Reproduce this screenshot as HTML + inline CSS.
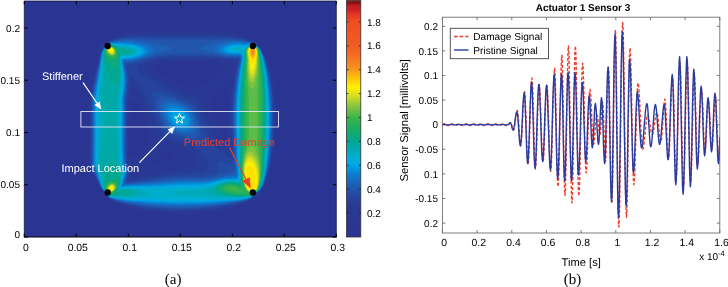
<!DOCTYPE html><html><head><meta charset="utf-8"><title>Figure</title>
<style>html,body{margin:0;padding:0;background:#fff}svg{display:block}text{font-family:"Liberation Sans",sans-serif;font-size:10px;fill:#000;text-rendering:geometricPrecision}.an{font-size:11px;fill:#fff}.cap{font-family:"Liberation Serif",serif;font-size:15px}</style></head><body>
<svg width="728" height="287" viewBox="0 0 728 287">
<defs><clipPath id="cp"><rect x="24.3" y="1.0" width="312.0" height="236.0"/></clipPath>
<clipPath id="cp2"><rect x="442.4" y="17.2" width="277.4" height="215.4"/></clipPath>
<filter id="bl" x="-5%" y="-5%" width="110%" height="110%"><feGaussianBlur stdDeviation="0.7"/></filter>
<linearGradient id="cb" x1="0" y1="1" x2="0" y2="0">
<stop offset="0.0000" stop-color="#2b3492"/>
<stop offset="0.1266" stop-color="#2a3894"/>
<stop offset="0.1772" stop-color="#2448a0"/>
<stop offset="0.2278" stop-color="#1c64ba"/>
<stop offset="0.2633" stop-color="#0c7cce"/>
<stop offset="0.2886" stop-color="#0096e1"/>
<stop offset="0.3089" stop-color="#00a8e6"/>
<stop offset="0.3342" stop-color="#00aed4"/>
<stop offset="0.3646" stop-color="#00aab9"/>
<stop offset="0.4051" stop-color="#00a891"/>
<stop offset="0.4557" stop-color="#19ac64"/>
<stop offset="0.5063" stop-color="#3cb54a"/>
<stop offset="0.5570" stop-color="#8dc63f"/>
<stop offset="0.5975" stop-color="#d7df23"/>
<stop offset="0.6329" stop-color="#fff200"/>
<stop offset="0.6684" stop-color="#fdc80a"/>
<stop offset="0.7089" stop-color="#f7961d"/>
<stop offset="0.7595" stop-color="#f37321"/>
<stop offset="0.8101" stop-color="#f15c24"/>
<stop offset="0.9114" stop-color="#f04e23"/>
<stop offset="0.9468" stop-color="#e23023"/>
<stop offset="0.9620" stop-color="#cb2023"/>
<stop offset="0.9813" stop-color="#c01c20"/>
<stop offset="0.9863" stop-color="#8e1416"/>
<stop offset="1.0000" stop-color="#871214"/>
</linearGradient></defs>
<rect width="728" height="287" fill="#fff"/>
<g clip-path="url(#cp)"><g filter="url(#bl)"><rect x="14.3" y="-9.0" width="332.0" height="256.0" fill="#2a3693"/>
<path fill="#2a3894" d="M97.4,47.5 99.7,45.5 104.8,42.0 106.8,41.1 108.8,40.6 113.8,37.7 117.8,36.0 120.8,34.9 124.8,33.9 129.8,33.0 133.8,32.6 225.8,32.6 230.8,33.1 236.8,34.2 241.8,35.8 248.4,38.5 249.8,38.8 250.8,38.8 252.8,37.6 253.8,37.5 254.8,37.9 255.8,38.9 256.8,40.3 258.6,43.5 259.8,46.5 263.5,51.5 264.6,53.5 267.2,59.5 270.2,68.5 272.3,77.5 274.2,89.5 275.4,100.5 276.1,113.5 276.0,125.5 275.3,139.5 274.3,148.5 273.4,155.5 271.5,166.5 269.5,174.5 266.5,182.5 265.2,185.5 263.0,189.5 261.2,193.5 258.8,196.9 256.8,198.7 254.8,199.8 253.8,200.2 250.8,200.7 245.8,203.1 236.8,206.2 230.8,207.9 222.8,209.8 211.8,211.8 201.8,213.0 189.8,213.9 178.8,214.1 166.8,213.6 159.8,213.1 152.8,212.3 142.8,210.8 130.8,208.1 122.8,205.8 115.8,203.0 113.8,202.0 110.8,200.2 108.0,197.5 107.8,197.0 105.8,196.1 104.8,195.4 103.1,193.5 101.9,190.5 99.4,187.5 97.1,183.5 91.4,171.5 90.2,168.5 88.9,164.5 89.1,97.5 91.4,85.5 96.8,63.8 97.8,57.9 97.7,56.5 96.2,53.5 95.8,51.5 96.2,49.5ZM154.7,66.5 154.9,67.5 155.5,68.5 157.5,70.5 162.8,74.5 167.6,77.5 172.9,80.5 186.7,87.5 189.8,88.7 192.8,89.2 195.8,89.0 198.8,88.0 201.8,86.5 205.8,83.9 211.8,79.3 219.6,72.5 223.7,68.5 224.5,67.5 225.0,66.5 224.9,65.5 224.1,64.5 222.0,63.5 219.8,63.0 216.8,62.5 213.8,62.3 203.8,62.2 174.8,62.4 164.8,62.9 160.1,63.5 156.8,64.5 155.2,65.5ZM229.8,77.1 228.8,77.6 227.8,78.4 224.8,81.6 219.8,87.5 215.8,92.8 213.4,96.5 211.7,99.5 210.6,102.5 210.0,105.5 210.1,108.5 211.0,111.5 216.8,124.1 219.6,129.5 221.8,133.1 223.8,135.9 224.8,137.0 225.8,137.6 226.8,137.3 227.3,135.5 227.7,132.5 227.9,117.5 228.3,109.5 230.9,82.5 230.8,78.4ZM131.8,98.2 130.8,99.6 130.3,103.5 129.9,107.5 129.4,141.5 129.5,148.5 129.8,153.3 130.8,157.0 131.8,157.9 133.1,157.5 135.8,155.2 140.3,150.5 144.4,145.5 147.1,141.5 148.6,138.5 149.6,135.5 149.8,133.5 149.6,131.5 148.7,128.5 143.5,118.5 137.8,106.5 135.8,102.8 133.8,99.7 132.8,98.6ZM174.0,153.5 173.3,152.5 172.2,151.5 170.3,150.5 168.8,150.2 165.8,150.3 162.8,151.5 159.8,153.5 157.6,155.5 155.9,157.5 153.9,160.5 153.2,162.5 153.1,163.5 153.8,164.4 154.8,164.5 156.8,164.2 161.8,162.5 168.8,159.5 171.8,157.8 173.3,156.5 174.0,155.5 174.2,154.5Z"/>
<path fill="#283d98" d="M103.8,44.5 105.8,43.0 108.8,41.6 111.8,39.7 114.8,38.3 117.8,37.1 121.8,36.0 126.8,35.0 131.8,34.5 135.8,34.2 226.8,34.4 232.8,35.0 238.8,36.2 242.8,37.4 250.8,40.3 251.8,40.4 252.8,40.0 253.8,40.1 254.8,40.6 255.8,41.5 257.1,43.5 258.5,46.5 258.8,46.6 261.5,49.5 263.4,52.5 265.3,56.5 266.5,59.5 269.3,68.5 271.4,78.5 273.4,91.5 274.4,103.5 274.9,116.5 274.7,129.5 274.0,140.5 272.3,155.5 270.2,167.5 268.2,175.5 265.2,183.5 264.3,185.5 262.5,188.5 260.0,191.5 258.8,193.5 257.2,195.5 254.8,197.2 252.8,198.0 249.8,200.3 246.8,201.7 242.8,203.2 236.8,205.0 228.8,207.1 217.8,209.2 205.8,210.8 194.8,211.7 183.8,212.1 171.8,212.0 158.8,211.2 147.8,209.9 136.8,208.1 126.8,205.8 117.8,203.0 114.8,201.7 111.8,200.2 109.8,198.8 108.4,197.5 107.8,196.2 104.9,193.5 103.9,191.5 101.8,189.6 99.4,186.5 97.3,182.5 93.2,173.5 91.2,168.5 89.9,164.5 90.1,97.5 92.4,85.5 97.8,62.6 98.8,57.5 99.7,50.5 100.0,49.5 101.2,47.5ZM146.3,64.5 145.4,65.5 145.0,66.5 145.0,67.5 145.5,68.5 146.8,70.2 149.2,72.5 154.0,76.5 158.1,79.5 162.6,82.5 169.8,86.5 186.0,94.5 190.8,96.1 198.8,97.5 199.8,97.9 200.8,98.6 201.4,99.5 201.8,100.6 203.0,108.5 204.0,112.5 206.8,119.1 212.8,131.8 216.8,138.3 221.6,144.5 225.8,148.7 227.8,150.0 228.8,150.1 229.8,149.0 230.3,146.5 230.5,144.5 230.1,117.5 230.3,109.5 231.0,100.5 232.3,88.5 234.2,74.5 236.4,63.5 236.4,62.5 235.8,61.5 234.8,61.3 228.8,61.2 216.8,60.0 208.8,59.7 190.8,59.6 168.8,59.8 159.8,60.4 153.8,61.5 150.2,62.5 147.9,63.5ZM131.8,87.2 130.8,88.4 129.8,91.4 128.8,95.5 128.3,98.5 128.0,105.5 127.8,137.5 127.9,152.5 128.8,162.0 129.3,164.5 130.5,167.5 130.9,170.5 130.5,173.5 129.7,176.5 129.6,177.5 129.8,178.1 130.2,178.5 130.8,178.7 133.9,178.5 140.6,177.5 145.5,176.5 169.8,170.9 188.8,167.2 192.8,165.9 194.8,164.8 196.0,163.5 196.5,162.5 196.7,160.5 196.3,158.5 195.3,156.5 193.8,154.5 191.8,152.5 189.3,150.5 186.1,148.5 182.5,146.5 175.8,143.4 172.8,142.4 169.8,141.8 161.8,141.0 160.3,140.5 159.2,139.5 158.3,137.5 157.2,131.5 155.9,127.5 150.3,116.5 143.8,102.6 140.2,96.5 135.8,90.4 133.8,88.0 132.8,87.3Z"/>
<path fill="#26439c" d="M105.3,44.5 106.7,43.5 107.8,43.0 110.8,40.8 114.8,39.1 117.8,38.1 121.8,37.2 125.8,36.5 129.8,36.1 134.8,35.8 160.8,36.0 227.8,36.1 234.8,36.7 240.8,37.9 248.8,40.2 250.8,41.0 251.8,41.6 253.8,41.8 254.8,42.3 255.9,43.5 257.7,46.5 258.8,47.0 260.3,48.5 262.4,51.5 265.2,57.5 267.2,63.5 269.5,72.5 271.4,83.5 273.0,96.5 273.7,107.5 273.9,121.5 273.5,135.5 272.3,148.5 270.5,161.5 269.5,167.5 268.3,172.5 266.2,179.5 264.2,184.5 263.2,186.5 260.8,189.9 259.8,190.9 258.8,191.5 255.8,194.6 252.8,196.4 252.4,197.5 250.8,199.0 247.8,200.7 243.8,202.1 233.8,204.9 222.8,207.1 209.8,209.0 195.8,210.1 182.8,210.6 169.8,210.4 157.8,209.6 144.8,208.2 132.8,206.1 122.8,203.8 117.8,202.3 114.8,201.1 111.8,199.7 109.8,198.4 108.0,196.5 107.8,195.8 107.4,195.5 106.8,194.5 106.8,194.1 105.4,192.5 103.8,191.2 101.2,188.5 99.3,185.5 97.4,181.5 93.5,172.5 91.6,167.5 90.7,164.5 90.9,97.5 93.3,84.5 100.3,53.5 101.0,51.5 103.1,47.5 104.4,45.5ZM138.3,65.5 137.4,66.5 136.8,67.5 136.6,68.5 136.8,69.7 138.0,71.5 140.1,73.5 142.7,75.5 151.2,81.5 156.1,84.5 160.8,87.0 174.8,93.1 185.8,98.3 192.8,101.1 194.8,102.2 195.8,103.1 197.0,104.5 198.1,106.5 200.9,114.5 208.8,134.5 210.8,138.6 213.1,142.5 215.2,145.5 217.8,148.5 223.2,153.5 226.8,156.3 228.8,157.4 229.8,157.5 230.8,157.0 231.8,154.4 232.2,149.5 231.4,120.5 231.5,111.5 232.1,101.5 233.2,90.5 234.5,80.5 236.2,70.5 238.0,62.5 238.0,60.5 237.8,60.0 236.8,59.4 227.8,59.3 215.8,58.2 206.8,57.8 180.8,57.7 165.8,58.0 157.8,58.8 153.6,59.5 149.5,60.5 143.7,62.5 141.5,63.5ZM130.8,75.7 129.8,81.0 129.2,85.5 127.2,97.5 127.0,99.5 126.8,128.5 126.9,152.5 127.7,164.5 128.7,167.5 129.2,170.5 128.9,173.5 127.6,178.5 127.5,179.5 127.8,180.5 128.8,180.8 130.8,180.7 140.7,179.5 160.8,176.0 174.8,173.9 183.8,173.1 200.8,172.3 204.7,171.5 206.8,170.5 207.7,169.5 208.2,168.5 208.3,167.5 208.1,164.5 207.3,161.5 206.0,158.5 204.8,156.3 202.6,153.5 200.5,151.5 196.2,148.5 190.5,145.5 178.6,140.5 166.8,136.7 164.8,135.5 163.7,134.5 162.8,133.4 161.8,131.6 158.8,125.1 154.4,116.5 152.3,111.5 147.8,99.9 144.2,92.5 140.5,86.5 133.8,77.2 132.8,76.0 131.8,75.3Z"/>
<path fill="#234ba3" d="M105.8,45.1 106.8,44.3 107.8,43.8 108.8,42.6 109.8,41.8 111.8,40.9 115.8,39.6 119.8,38.6 123.8,37.9 128.8,37.5 133.8,37.3 163.8,37.8 206.8,37.8 224.8,37.6 230.8,37.7 237.8,38.4 243.8,39.6 249.8,41.1 252.8,42.8 253.8,43.0 254.8,43.6 256.3,45.5 256.8,45.7 257.5,46.5 258.8,47.4 259.9,48.5 262.0,51.5 264.3,56.5 266.1,61.5 267.2,65.5 269.2,74.5 271.1,86.5 272.3,97.5 272.9,108.5 273.1,121.5 272.7,134.5 271.7,147.5 270.2,159.5 268.4,169.5 266.3,177.5 264.6,182.5 263.3,185.5 262.2,187.5 260.7,189.5 257.8,192.1 256.2,192.5 254.8,193.8 253.8,194.5 253.4,195.5 252.8,196.0 252.0,197.5 250.8,198.5 248.8,199.8 244.8,201.3 233.8,204.0 222.8,206.1 208.8,207.9 194.8,208.9 181.8,209.3 168.8,209.0 155.8,208.2 143.8,206.9 130.8,204.8 119.8,202.3 115.8,201.0 112.8,199.8 110.8,198.8 108.8,197.3 108.2,196.5 107.8,195.5 106.9,194.5 107.1,193.5 106.3,192.5 105.8,192.4 103.3,190.5 101.5,188.5 100.3,186.5 98.3,182.5 94.2,172.5 92.3,167.5 91.4,164.5 91.6,97.5 93.4,87.5 100.2,55.5 101.2,52.5 102.1,50.5 103.3,48.5ZM238.5,58.5 237.8,58.2 236.8,58.1 231.8,58.3 227.8,58.1 212.8,56.5 203.8,55.9 178.8,55.9 165.8,56.2 158.8,56.9 151.8,58.3 144.3,60.5 133.8,64.1 127.8,65.2 127.4,65.5 126.8,66.5 126.8,67.5 128.1,75.5 128.3,80.5 127.7,88.5 126.2,98.5 126.0,145.5 126.2,155.5 126.7,164.5 127.9,168.5 128.1,171.5 127.6,175.5 126.2,180.5 126.2,181.5 126.8,182.0 127.8,182.1 134.9,181.5 143.5,180.5 165.8,177.3 176.8,176.2 186.8,175.7 202.8,175.6 207.8,175.1 211.0,174.5 213.9,173.5 215.8,172.5 217.0,171.5 217.7,170.5 218.1,169.5 218.2,163.5 218.8,162.0 219.8,161.3 220.8,161.2 222.8,161.5 229.8,164.3 230.8,164.4 231.8,163.9 232.8,161.5 233.2,157.5 233.4,153.5 233.3,147.5 232.4,122.5 232.5,112.5 233.0,102.5 234.1,90.5 235.4,80.5 237.1,70.5 239.1,61.5 239.1,59.5 238.8,58.8ZM152.9,92.5 153.8,91.7 154.8,91.4 157.8,91.3 162.8,92.3 168.8,94.0 176.8,97.0 187.8,102.1 190.8,103.6 193.3,105.5 194.9,107.5 196.5,110.5 200.5,121.5 202.4,127.5 203.9,133.5 204.6,138.5 204.5,141.5 203.8,142.8 202.8,143.5 201.8,143.7 199.8,143.7 195.8,143.0 190.8,141.6 170.8,135.0 167.8,133.4 165.8,131.7 163.6,128.5 159.4,120.5 157.1,115.5 155.2,110.5 153.5,104.5 152.4,98.5 152.2,96.5 152.2,94.5 152.4,93.5Z"/>
<path fill="#2056ad" d="M109.8,42.2 111.8,41.4 116.8,40.1 122.8,39.1 128.8,38.7 135.8,38.7 157.8,39.9 171.8,40.2 205.8,40.1 213.8,39.9 225.8,39.2 232.8,39.2 240.8,39.9 249.8,41.7 250.8,42.0 251.8,42.7 252.7,43.5 252.8,43.8 253.8,44.1 254.8,44.7 255.4,45.5 256.8,46.0 257.2,46.5 258.7,47.5 259.7,48.5 261.2,50.5 262.2,52.5 263.5,55.5 266.2,63.5 268.3,72.5 270.1,83.5 271.2,93.5 272.0,104.5 272.3,115.5 272.3,127.5 271.6,139.5 270.5,151.5 269.1,162.5 267.4,171.5 265.2,179.5 263.4,184.5 262.4,186.5 260.4,189.5 258.8,191.0 256.8,192.3 254.8,192.5 253.6,193.5 253.7,194.5 252.8,195.6 252.5,196.5 251.8,197.4 250.8,198.3 247.8,199.8 244.8,200.8 234.8,203.1 222.8,205.2 208.8,206.8 195.8,207.7 182.8,208.1 169.8,207.9 156.8,207.2 143.8,205.9 130.8,204.0 120.8,201.9 113.8,199.8 110.8,198.4 108.8,197.1 107.9,195.5 107.0,194.5 107.8,193.5 107.1,192.5 105.8,192.3 103.5,190.5 101.9,188.5 100.1,185.5 93.6,169.5 92.0,164.5 92.3,97.5 94.4,85.5 98.8,64.8 100.4,56.5 101.2,53.5 103.0,49.5 106.3,45.5 107.8,44.4 108.2,43.5ZM125.8,63.5 125.4,64.5 125.3,65.5 127.0,74.5 127.4,80.5 126.9,87.5 125.4,98.5 125.2,124.5 125.3,150.5 125.9,164.5 127.0,168.5 127.3,171.5 127.0,174.5 125.1,181.5 125.1,182.5 125.8,183.0 126.8,183.1 145.1,181.5 164.8,179.0 176.8,178.0 184.8,177.7 200.8,177.7 206.8,177.4 212.8,176.5 216.6,175.5 226.8,172.2 231.8,171.5 232.8,171.2 233.8,169.9 234.0,168.5 234.4,159.5 234.3,149.5 233.3,124.5 233.3,114.5 233.6,105.5 234.5,93.5 236.1,80.5 237.6,71.5 239.9,60.5 239.9,58.5 239.2,57.5 237.8,57.1 231.8,57.3 226.8,57.0 210.8,54.6 202.8,53.9 184.8,53.7 168.8,54.0 161.8,54.7 156.8,55.6 150.8,57.2 134.8,62.0 130.8,62.8 126.8,63.1ZM158.8,97.8 159.8,97.1 160.8,96.7 163.8,96.4 167.8,96.8 171.8,97.8 177.8,99.9 185.8,103.6 189.3,105.5 191.7,107.5 193.8,110.4 195.2,113.5 197.3,119.5 199.0,125.5 199.6,129.5 199.6,132.5 199.3,134.5 198.9,135.5 198.2,136.5 196.8,137.6 195.8,138.0 193.8,138.3 190.8,138.2 186.8,137.5 180.8,135.9 173.8,133.7 170.8,132.3 169.5,131.5 167.8,130.1 165.7,127.5 162.9,122.5 160.1,116.5 158.3,111.5 157.2,106.5 157.0,102.5 157.3,100.5 157.6,99.5Z"/>
<path fill="#1d61b7" d="M108.8,43.2 109.8,42.6 111.8,41.8 120.8,40.3 127.8,39.9 135.8,40.3 146.1,41.5 156.7,43.5 170.9,47.5 172.8,48.5 170.6,49.5 167.8,50.1 160.8,52.2 144.8,57.8 137.8,60.0 131.8,61.3 125.8,61.8 124.8,62.2 124.6,62.5 124.3,63.5 124.3,64.5 126.2,74.5 126.6,80.5 126.2,87.5 124.7,98.5 124.5,138.5 124.8,156.5 125.2,164.5 126.3,168.5 126.6,171.5 126.2,175.5 124.2,182.5 124.2,183.5 124.8,183.9 125.8,184.0 144.8,182.6 164.8,180.4 174.8,179.6 183.8,179.3 200.8,179.3 206.8,179.0 211.8,178.2 225.8,175.2 232.9,174.5 233.8,174.3 234.8,173.8 235.4,172.5 235.7,170.5 235.1,150.5 234.1,126.5 234.0,116.5 234.3,106.5 235.1,95.5 236.2,84.5 238.2,71.5 240.5,60.5 240.6,58.5 240.4,57.5 239.8,56.6 238.8,56.3 232.8,56.4 228.8,56.2 223.8,55.5 218.8,54.5 211.3,52.5 201.7,49.5 200.0,48.5 201.1,47.5 208.6,44.5 213.8,43.0 218.8,41.9 223.8,41.1 228.8,40.6 232.8,40.5 239.8,40.8 249.8,42.1 250.8,42.4 251.8,43.0 252.3,43.5 252.8,44.6 254.5,45.5 255.8,45.6 258.5,47.5 259.5,48.5 260.9,50.5 263.2,55.5 265.4,62.5 267.5,71.5 269.3,82.5 270.5,93.5 271.3,105.5 271.6,117.5 271.5,129.5 270.9,140.5 269.6,154.5 268.0,165.5 266.2,174.5 264.2,181.5 262.1,186.5 260.9,188.5 259.2,190.5 256.8,192.2 253.1,192.5 252.8,192.9 252.8,193.5 253.6,194.5 252.7,195.5 252.3,196.5 251.8,197.2 250.8,198.0 248.8,199.0 244.8,200.3 232.8,202.8 221.8,204.4 208.8,205.8 194.8,206.6 181.8,206.9 168.8,206.7 155.8,206.0 142.8,204.8 129.8,203.1 119.8,201.1 115.8,200.1 112.8,199.0 110.8,198.2 108.8,196.9 108.0,195.5 107.1,194.5 107.9,193.5 107.8,192.5 105.8,192.2 103.8,190.6 102.1,188.5 100.5,185.5 94.2,169.5 92.6,164.5 92.9,134.5 92.9,97.5 94.5,88.5 101.2,54.5 102.3,51.5 103.3,49.5 104.9,47.5 108.0,44.5ZM162.1,101.5 163.8,100.4 165.8,99.8 168.8,99.8 172.8,100.5 177.8,102.1 183.8,104.7 187.1,106.5 189.7,108.5 191.4,110.5 193.0,113.5 194.5,117.5 195.8,122.5 196.3,125.5 196.4,128.5 195.8,131.2 194.8,132.9 193.8,133.8 192.8,134.3 190.8,134.9 187.8,135.0 184.8,134.6 179.8,133.5 174.8,131.9 171.8,130.5 169.2,128.5 167.6,126.5 165.1,122.5 162.4,116.5 161.0,112.5 160.3,108.5 160.3,105.5 160.8,103.5 161.3,102.5Z"/>
<path fill="#156ec3" d="M108.8,43.5 109.8,42.9 111.8,42.3 121.8,41.2 128.8,41.1 135.8,41.8 142.8,43.1 147.8,44.7 150.8,46.1 153.0,47.5 154.1,48.5 154.6,49.5 154.6,50.5 154.0,51.5 152.9,52.5 149.6,54.5 145.0,56.5 139.8,58.3 134.8,59.7 130.8,60.4 124.8,60.8 123.7,61.5 123.5,62.5 123.6,64.5 125.4,73.5 125.9,80.5 125.4,88.5 124.0,98.5 123.9,135.5 124.1,156.5 124.5,164.5 125.7,168.5 126.0,172.5 125.4,176.5 123.3,183.5 123.5,184.5 123.8,184.7 124.8,184.8 131.8,184.2 145.8,183.5 164.8,181.7 175.8,180.9 184.8,180.6 199.8,180.7 205.1,180.5 211.8,179.5 223.8,176.9 228.8,176.3 233.8,176.1 234.8,176.0 235.8,175.5 236.4,174.5 236.7,172.5 236.2,163.5 235.8,149.6 234.9,128.5 234.7,117.5 235.0,106.5 235.7,95.5 237.0,83.5 238.6,72.5 241.0,60.5 241.1,57.5 240.8,56.4 239.8,55.6 238.8,55.4 232.8,55.6 228.8,55.3 224.0,54.5 220.3,53.5 217.7,52.5 215.8,51.5 214.7,50.5 214.1,49.5 214.2,48.5 214.9,47.5 217.4,45.5 219.3,44.5 221.8,43.6 227.8,42.2 234.8,41.6 239.8,41.8 245.8,42.4 249.8,42.6 250.8,42.8 251.8,43.4 252.5,44.5 253.7,45.5 255.8,45.7 258.3,47.5 260.0,49.5 261.2,51.5 263.2,56.5 265.3,63.5 267.2,72.5 268.9,83.5 270.0,94.5 270.7,105.5 271.0,117.5 270.8,129.5 270.2,141.5 269.0,154.5 267.4,166.5 265.5,175.5 263.5,182.5 262.3,185.5 261.3,187.5 258.9,190.5 256.8,192.1 255.8,192.3 252.7,192.5 252.7,193.5 253.6,194.5 252.6,195.5 251.8,197.0 250.8,197.7 248.8,198.7 244.8,199.9 233.8,201.9 222.8,203.4 209.8,204.7 196.8,205.5 182.8,205.8 169.8,205.6 156.8,205.0 143.8,204.0 130.8,202.5 120.8,200.8 116.8,199.9 112.8,198.7 110.8,197.9 108.8,196.7 108.1,195.5 107.1,194.5 108.0,193.5 107.9,192.5 105.8,192.1 103.9,190.5 102.3,188.5 101.2,186.5 94.8,169.5 93.2,164.5 93.5,133.5 93.6,97.5 94.8,90.0 101.5,54.5 102.5,51.5 104.1,48.5 108.1,44.5ZM164.8,104.4 165.8,103.6 166.8,103.1 168.8,102.6 170.8,102.6 173.8,103.0 177.8,104.2 181.8,105.8 185.2,107.5 187.9,109.5 189.7,111.5 191.0,113.5 192.2,116.5 193.3,120.5 193.7,123.5 193.6,126.5 193.1,128.5 192.6,129.5 191.8,130.5 189.8,131.7 187.8,132.2 185.8,132.3 182.8,132.1 178.8,131.3 175.8,130.3 172.8,128.9 170.8,127.3 168.8,125.0 166.7,121.5 164.9,117.5 163.6,113.5 163.1,110.5 163.1,108.5 163.5,106.5 164.0,105.5Z"/>
<path fill="#0c7cce" d="M105.1,47.5 107.8,45.0 108.8,43.8 110.8,42.9 121.8,42.1 128.8,42.3 135.8,43.2 139.8,44.1 142.8,45.1 145.8,46.5 147.4,47.5 148.7,48.5 149.4,49.5 149.7,50.5 149.5,51.5 148.9,52.5 147.7,53.5 146.2,54.5 142.0,56.5 136.8,58.3 132.8,59.2 128.8,59.7 123.8,60.0 123.2,60.5 122.8,61.5 123.1,64.5 124.8,73.5 125.3,79.5 125.0,86.5 123.5,97.5 123.3,101.5 123.2,133.5 123.5,156.5 123.9,164.5 125.0,168.5 125.4,172.5 124.9,176.5 122.8,182.9 122.5,184.5 122.8,185.4 123.8,185.5 130.8,184.9 147.8,184.3 166.8,182.8 176.8,182.2 185.8,181.9 199.8,182.0 204.8,181.8 210.8,180.9 223.8,178.0 228.8,177.5 234.8,177.3 235.8,177.2 236.8,176.6 237.3,175.5 237.5,173.5 236.9,163.5 235.5,128.5 235.4,117.5 235.7,107.5 236.4,95.5 237.6,83.5 239.3,71.5 241.5,60.5 241.7,57.5 241.5,56.5 241.1,55.5 240.8,55.1 239.8,54.7 234.8,54.8 231.8,54.7 228.8,54.4 225.8,53.8 221.8,52.5 220.0,51.5 219.0,50.5 218.7,49.5 218.9,48.5 219.6,47.5 221.8,45.9 223.8,44.9 225.8,44.2 228.8,43.5 234.8,42.8 239.8,42.8 245.8,43.4 249.8,43.1 250.8,43.2 251.8,43.7 252.3,44.5 253.5,45.5 255.8,45.8 258.2,47.5 259.1,48.5 260.4,50.5 262.5,55.5 264.9,63.5 266.6,71.5 268.0,81.5 269.2,92.5 269.9,103.5 270.3,115.5 270.2,127.5 269.7,139.5 268.6,152.5 267.2,164.5 266.0,171.5 264.1,179.5 262.0,185.5 261.0,187.5 259.6,189.5 258.7,190.5 256.8,192.0 255.8,192.3 252.6,192.5 252.6,193.5 253.5,194.5 252.5,195.5 251.8,196.8 249.8,198.0 246.8,199.0 237.8,200.7 226.8,202.2 212.8,203.5 200.8,204.2 187.8,204.6 173.8,204.6 159.8,204.2 145.8,203.2 130.8,201.7 120.8,200.3 116.8,199.5 112.8,198.4 110.8,197.6 108.8,196.5 108.2,195.5 107.2,194.5 108.1,193.5 108.1,192.5 105.8,192.0 104.1,190.5 102.5,188.5 101.5,186.5 95.7,170.5 93.8,164.5 94.2,132.5 94.2,97.5 95.7,88.5 99.4,68.5 101.5,55.5 102.4,52.5 103.2,50.5 104.3,48.5ZM167.7,106.5 168.8,105.8 170.8,105.3 172.8,105.2 175.8,105.7 178.8,106.5 181.8,107.7 184.8,109.4 186.8,111.0 188.2,112.5 189.4,114.5 190.3,116.5 191.0,119.5 191.3,122.5 191.2,124.5 190.6,126.5 189.8,127.8 188.8,128.7 186.8,129.6 184.8,130.0 181.8,129.9 178.8,129.4 175.8,128.4 173.8,127.3 171.8,125.7 170.0,123.5 168.2,120.5 167.0,117.5 166.1,114.5 165.8,111.5 166.0,109.5 166.8,107.5Z"/>
<path fill="#0291dd" d="M105.2,47.5 107.8,45.2 108.8,44.0 109.8,43.5 110.8,43.3 112.8,43.1 121.8,43.1 126.8,43.2 133.8,44.1 136.8,44.8 139.8,45.8 142.8,47.2 144.8,48.5 145.8,49.5 146.2,50.5 146.2,51.5 145.7,52.5 144.8,53.5 141.8,55.4 139.3,56.5 135.8,57.7 131.8,58.6 127.8,59.0 123.8,59.0 122.8,59.3 122.3,60.5 122.4,63.5 124.2,73.5 124.6,79.5 124.2,87.5 122.7,98.5 122.5,129.5 122.7,149.5 123.2,164.5 124.6,169.5 124.8,172.5 124.3,176.5 121.8,184.5 121.6,185.5 121.8,185.9 122.8,186.2 130.8,185.6 149.8,185.3 177.8,183.4 185.8,183.2 198.8,183.3 203.8,183.1 209.8,182.2 218.8,179.9 223.8,178.9 228.8,178.4 235.8,178.3 236.8,178.1 237.5,177.5 238.0,176.5 238.2,174.5 237.4,163.5 236.2,129.5 236.1,118.5 236.3,107.5 237.0,95.5 238.1,84.5 239.7,72.5 241.9,60.5 242.2,58.5 242.1,56.5 241.8,55.2 240.8,54.0 239.8,53.9 235.8,54.1 232.8,54.0 227.8,53.2 225.4,52.5 223.4,51.5 222.4,50.5 222.0,49.5 222.3,48.5 223.1,47.5 224.6,46.5 226.7,45.5 230.8,44.4 235.8,43.8 239.8,43.8 245.8,44.4 249.8,43.6 250.8,43.6 251.8,44.0 253.2,45.5 255.8,45.9 258.0,47.5 258.9,48.5 260.2,50.5 262.2,55.5 264.5,63.5 266.3,72.5 267.7,83.5 268.7,94.5 269.4,105.5 269.6,117.5 269.5,130.5 268.9,142.5 267.7,155.5 266.3,167.5 264.5,176.5 262.9,182.5 262.1,184.5 260.7,187.5 259.5,189.5 258.6,190.5 256.8,191.9 255.8,192.2 252.5,192.5 252.5,193.5 253.4,194.5 252.4,195.5 251.8,196.6 249.8,197.7 245.8,198.9 235.8,200.4 225.8,201.5 212.8,202.5 199.8,203.2 185.8,203.5 171.8,203.4 156.8,202.9 141.8,201.9 127.8,200.7 119.8,199.6 112.8,198.0 110.8,197.4 108.8,196.3 108.3,195.5 107.3,194.5 108.2,193.5 108.2,192.5 105.8,191.9 104.2,190.5 103.4,189.5 102.3,187.5 100.7,183.5 95.8,168.9 94.5,164.5 94.9,130.5 94.9,97.5 100.0,67.5 101.8,55.5 102.6,52.5 103.4,50.5 104.4,48.5ZM169.8,109.3 170.8,108.5 171.8,108.1 173.8,107.8 175.8,107.9 177.8,108.3 180.8,109.3 182.8,110.3 184.8,111.7 185.8,112.6 187.2,114.5 188.2,116.5 188.8,118.5 189.1,120.5 189.0,122.5 188.4,124.5 187.8,125.5 186.8,126.5 184.8,127.5 182.8,127.8 180.8,127.8 178.8,127.4 176.8,126.8 174.8,125.7 173.2,124.5 171.8,122.9 170.8,121.4 169.8,119.3 168.8,116.5 168.5,114.5 168.4,112.5 168.9,110.5Z"/>
<path fill="#00a4e5" d="M105.3,47.5 107.8,45.4 108.8,44.3 109.8,43.8 110.8,43.6 112.8,43.6 116.8,43.9 126.8,44.2 132.8,45.1 137.7,46.5 140.0,47.5 141.6,48.5 142.7,49.5 143.3,50.5 143.4,51.5 143.1,52.5 142.2,53.5 140.9,54.5 137.8,56.0 134.8,57.1 130.8,57.9 127.8,58.2 122.8,58.3 122.4,58.5 121.7,59.5 121.8,62.5 123.5,72.5 124.0,78.5 123.6,86.5 122.0,98.5 121.8,128.5 122.0,149.5 122.6,164.5 124.0,169.5 124.2,172.5 124.1,174.5 123.6,177.5 120.8,186.5 121.8,186.9 129.8,186.2 148.8,186.4 177.8,184.8 202.8,184.4 206.8,183.9 209.8,183.3 218.8,180.8 223.8,179.7 228.8,179.2 235.8,179.3 236.8,179.2 237.8,178.8 238.6,177.5 238.8,176.5 238.8,174.5 238.0,163.5 237.6,147.5 236.9,129.5 236.8,117.5 237.0,106.5 237.7,94.5 238.8,83.5 240.3,71.5 242.5,59.5 242.6,56.5 242.2,54.5 241.8,53.6 240.8,53.1 234.8,53.3 229.8,52.6 226.6,51.5 225.4,50.5 225.0,49.5 225.4,48.5 226.4,47.5 228.2,46.5 231.8,45.4 235.8,44.9 239.8,44.9 245.8,45.5 246.8,45.3 249.8,44.2 250.8,44.1 251.8,44.3 253.0,45.5 255.8,46.0 257.8,47.5 258.7,48.5 260.0,50.5 261.9,55.5 264.1,63.5 265.8,72.5 267.1,82.5 268.1,94.5 268.8,106.5 269.0,117.5 268.8,130.5 268.2,142.5 267.1,156.5 265.8,167.5 264.4,175.5 262.6,182.5 261.5,185.5 260.5,187.5 259.3,189.5 258.4,190.5 256.8,191.8 255.8,192.1 252.8,192.3 252.3,192.5 252.4,193.5 253.3,194.5 252.3,195.5 251.8,196.4 249.8,197.5 246.8,198.3 238.8,199.5 229.8,200.3 203.8,201.9 187.8,202.2 171.8,202.2 154.8,201.6 134.8,200.5 124.8,199.7 118.8,198.9 111.8,197.4 109.8,196.7 108.8,196.2 108.4,195.5 107.4,194.5 108.2,193.5 108.3,192.5 105.8,191.8 104.3,190.5 103.6,189.5 102.5,187.5 101.7,185.5 95.2,164.5 95.7,131.5 95.6,97.5 100.2,69.5 102.1,55.5 102.5,53.5 103.5,50.5ZM172.6,111.5 173.8,110.8 174.8,110.5 177.8,110.6 180.8,111.6 182.5,112.5 183.8,113.5 184.8,114.6 185.9,116.5 186.7,119.5 186.6,121.5 186.2,122.5 185.7,123.5 184.8,124.4 182.8,125.3 181.8,125.5 179.8,125.4 176.8,124.5 175.2,123.5 174.1,122.5 172.8,120.7 172.2,119.5 171.3,116.5 171.2,114.5 171.4,113.5 171.8,112.5Z"/>
<path fill="#00acdb" d="M105.4,47.5 108.8,44.5 110.8,43.9 112.8,44.0 117.8,44.7 126.8,45.1 131.8,45.9 136.8,47.5 138.7,48.5 140.0,49.5 140.7,50.5 140.9,51.5 140.6,52.5 139.8,53.5 138.5,54.5 136.5,55.5 133.6,56.5 129.8,57.3 126.8,57.5 122.5,57.5 121.8,57.7 121.4,58.5 121.2,59.5 121.5,63.5 123.0,72.5 123.3,78.5 123.2,82.5 122.8,87.4 121.2,98.5 121.0,124.5 121.2,149.5 121.8,164.5 123.3,169.5 123.6,173.5 123.4,175.5 122.8,178.5 120.2,186.5 120.2,187.5 120.8,187.7 125.8,187.1 130.8,186.9 145.8,187.6 151.8,187.6 178.8,186.2 201.8,185.8 205.8,185.4 208.8,184.8 219.3,181.5 223.8,180.4 226.8,180.0 229.8,179.9 236.8,180.1 237.8,180.0 238.5,179.5 239.0,178.5 239.3,175.5 238.5,163.5 238.2,147.5 237.6,128.5 237.5,117.5 237.7,106.5 238.4,94.5 239.5,82.5 240.8,71.5 242.9,59.5 243.0,56.5 242.5,53.5 241.8,52.2 240.8,52.0 235.8,52.4 231.8,51.9 230.3,51.5 228.5,50.5 228.0,49.5 228.4,48.5 229.8,47.5 232.8,46.5 234.8,46.1 237.8,46.0 240.8,46.2 244.8,46.8 245.8,46.7 246.8,46.4 249.8,44.9 250.8,44.6 251.8,44.6 252.7,45.5 255.8,46.1 257.7,47.5 258.6,48.5 259.8,50.5 261.3,54.5 263.4,62.5 265.1,71.5 266.4,81.5 267.4,93.5 268.1,105.5 268.3,117.5 268.1,130.5 267.6,142.5 266.5,157.5 265.2,168.5 264.0,175.5 262.3,182.5 260.3,187.5 259.1,189.5 258.2,190.5 256.8,191.7 255.8,192.1 252.8,192.3 252.2,192.5 252.3,193.5 253.3,194.5 252.2,195.5 251.8,196.2 249.8,197.2 247.8,197.8 242.8,198.5 231.8,199.5 208.8,200.4 192.8,200.8 175.8,200.8 163.1,200.5 130.8,199.4 124.8,199.1 118.8,198.4 111.8,197.1 109.8,196.5 108.8,196.0 108.5,195.5 107.4,194.5 108.3,193.5 108.5,192.5 105.8,191.7 104.5,190.5 103.8,189.5 102.8,187.5 95.9,164.5 96.6,131.5 96.5,97.5 100.5,71.5 102.3,55.5 102.8,53.5 103.7,50.5ZM175.3,114.5 176.8,113.7 177.8,113.6 179.8,114.0 180.8,114.5 181.8,115.2 182.9,116.5 183.7,118.5 183.7,119.5 183.5,120.5 182.9,121.5 181.8,122.3 180.8,122.6 179.8,122.6 178.8,122.4 176.8,121.4 175.9,120.5 175.2,119.5 174.5,117.5 174.7,115.5Z"/>
<path fill="#00adcb" d="M105.6,47.5 108.8,44.7 110.8,44.2 112.8,44.4 117.8,45.5 126.8,46.1 131.8,47.0 135.8,48.5 137.3,49.5 138.2,50.5 138.5,51.5 138.2,52.5 137.4,53.5 136.0,54.5 133.8,55.5 130.8,56.3 128.8,56.6 125.8,56.8 121.8,56.7 120.9,57.5 120.7,58.5 120.9,62.5 122.4,72.5 122.6,78.5 122.5,82.5 121.9,87.5 120.2,98.5 120.0,121.5 120.2,144.5 120.5,155.5 121.0,164.5 122.5,169.5 122.9,171.5 123.0,173.5 122.7,176.5 122.0,179.5 120.8,183.5 119.3,187.5 119.8,188.4 125.8,187.7 130.8,187.6 135.8,187.9 146.8,189.0 152.8,189.3 158.8,189.1 179.8,188.0 197.8,187.6 202.8,187.3 205.8,186.9 208.8,186.2 218.7,182.5 223.8,181.1 226.8,180.7 229.8,180.5 237.8,180.9 238.9,180.5 239.5,179.5 239.7,178.5 239.9,176.5 238.9,162.5 238.8,147.5 238.2,123.5 238.5,105.5 239.1,94.5 240.1,82.5 241.3,71.5 243.3,59.5 243.4,56.5 242.8,50.8 241.8,50.5 237.8,51.2 234.8,51.1 232.5,50.5 231.6,49.5 232.2,48.5 234.8,47.5 236.8,47.3 240.2,47.5 243.8,48.6 244.8,48.4 249.8,45.5 250.8,45.1 251.8,45.0 252.3,45.5 254.8,45.8 255.8,46.1 257.6,47.5 258.4,48.5 259.6,50.5 261.0,54.5 263.3,63.5 264.8,72.4 265.8,81.5 266.8,93.5 267.4,105.5 267.6,117.5 267.5,129.5 267.0,142.5 265.8,158.5 264.8,168.5 263.5,176.5 262.0,182.5 260.1,187.5 258.1,190.5 256.8,191.5 255.8,192.0 252.8,192.2 252.1,192.5 252.2,193.5 253.2,194.5 252.1,195.5 251.8,196.1 249.8,197.0 247.8,197.4 244.8,197.8 231.8,198.7 192.8,199.0 149.8,198.2 128.8,198.5 122.8,198.2 116.2,197.5 110.8,196.6 108.8,195.8 107.5,194.5 108.4,193.5 108.6,192.5 105.8,191.6 104.6,190.5 104.0,189.5 103.1,187.5 100.2,176.5 96.7,164.5 97.6,131.5 97.5,97.5 101.3,70.5 102.8,54.5 103.9,50.5Z"/>
<path fill="#00aab9" d="M110.8,44.5 112.8,44.8 117.8,46.3 125.8,46.9 129.8,47.6 132.6,48.5 134.5,49.5 135.6,50.5 136.0,51.5 135.8,52.5 134.9,53.5 132.8,54.7 130.1,55.5 127.8,55.8 124.8,56.0 121.8,55.8 120.8,56.1 120.3,57.5 120.3,61.5 121.7,72.5 121.9,77.5 121.6,81.5 120.9,87.5 119.0,98.5 118.7,116.5 118.7,132.5 119.2,150.5 120.1,164.5 121.8,170.0 122.2,172.5 122.2,174.5 121.9,177.5 120.8,182.0 120.1,184.5 118.4,188.5 118.8,189.0 119.8,189.1 126.8,188.3 132.8,188.5 139.2,189.5 143.3,190.5 146.6,191.5 148.9,192.5 149.2,193.5 147.3,194.5 144.2,195.5 139.4,196.5 135.8,197.0 130.8,197.4 126.8,197.5 121.8,197.4 112.8,196.6 110.8,196.3 108.8,195.7 107.6,194.5 108.5,193.5 108.8,192.5 105.8,191.5 104.8,190.5 103.7,188.5 102.8,185.5 101.3,177.5 97.8,164.5 98.6,148.5 99.3,128.5 99.4,114.5 99.0,97.5 102.2,69.5 102.8,56.5 103.7,51.5 105.0,48.5 105.7,47.5 107.8,45.7 108.3,45.5 108.8,44.9ZM255.8,46.2 257.4,47.5 258.3,48.5 259.8,51.5 261.8,58.5 263.4,66.5 264.7,75.5 265.6,85.5 266.3,96.5 266.7,108.5 266.9,121.5 266.6,134.5 265.9,149.5 264.8,164.5 263.8,172.5 262.5,179.5 261.1,184.5 259.3,188.5 257.9,190.5 256.7,191.5 255.8,192.0 252.8,192.2 252.0,192.5 252.1,193.5 253.1,194.5 251.8,195.9 250.8,196.4 248.8,196.9 243.8,197.5 231.8,197.9 222.8,197.6 209.8,196.7 188.8,195.5 178.8,194.5 172.5,193.5 172.2,192.5 177.5,191.5 188.5,190.5 198.8,189.9 204.8,189.1 208.8,187.9 218.8,183.4 221.8,182.4 224.8,181.7 227.8,181.3 230.8,181.2 237.8,181.8 238.8,181.7 239.8,180.8 240.1,179.5 240.3,176.5 239.6,167.5 239.4,162.5 239.5,146.5 238.9,122.5 239.1,108.5 239.7,94.5 240.8,81.5 241.9,71.5 243.8,58.5 243.6,52.5 244.0,50.5 244.6,49.5 247.8,46.9 248.9,46.5 249.8,45.7 251.8,45.4 254.8,45.9Z"/>
<path fill="#00a9a5" d="M110.8,44.8 112.8,45.2 116.8,46.8 118.8,47.3 124.8,47.9 128.5,48.5 131.2,49.5 132.6,50.5 133.2,51.5 132.9,52.5 131.9,53.5 129.8,54.4 125.8,55.0 120.8,54.9 120.0,55.5 119.8,56.1 119.7,57.5 119.9,61.5 120.8,71.5 120.8,77.5 119.8,85.3 116.9,98.5 116.1,114.5 116.1,123.5 116.3,132.5 117.2,147.5 118.1,159.5 118.7,164.5 119.8,167.2 120.8,170.4 121.3,174.5 121.0,178.5 119.9,183.5 118.9,186.5 117.8,188.5 117.6,189.5 117.8,189.7 118.8,189.9 124.8,189.2 128.8,189.2 132.1,189.5 136.0,190.5 137.9,191.5 138.4,192.5 137.8,193.5 136.1,194.5 133.8,195.3 129.8,196.1 126.8,196.4 122.8,196.5 111.8,196.0 108.8,195.5 107.7,194.5 108.6,193.5 109.0,192.5 105.9,191.5 105.0,190.5 104.4,189.5 103.6,187.5 102.3,177.5 99.6,164.5 100.8,152.3 104.0,128.5 104.5,122.5 104.6,118.5 104.3,113.5 102.3,97.5 102.4,88.5 103.4,68.5 103.2,58.5 103.3,55.5 103.8,52.0 104.6,49.5 105.8,47.5 107.8,45.8 108.8,45.2ZM254.8,45.9 255.8,46.3 257.3,47.5 258.7,49.5 260.2,53.5 261.6,59.5 262.8,65.6 263.9,73.5 264.8,83.3 265.5,94.5 265.9,105.5 266.1,117.5 266.0,129.5 265.6,141.5 264.8,157.3 264.0,167.5 263.0,175.5 261.7,181.5 260.1,186.5 258.5,189.5 257.7,190.5 256.6,191.5 255.8,191.9 252.8,192.1 251.9,192.5 252.0,193.5 253.0,194.5 251.8,195.7 248.8,196.6 245.8,196.8 231.8,197.0 224.7,196.5 217.8,195.3 212.3,193.5 210.6,192.5 210.1,191.5 210.4,190.5 211.2,189.5 215.0,186.5 216.6,185.5 219.8,183.9 224.1,182.5 227.8,181.9 230.8,181.8 238.8,182.7 239.8,182.4 240.3,181.5 240.6,180.5 240.7,176.5 240.0,168.5 239.8,163.5 240.1,146.5 239.7,123.5 239.9,108.5 240.5,94.5 241.5,80.5 242.5,70.5 244.2,58.5 244.0,52.5 244.5,50.5 245.2,49.5 247.8,47.1 249.1,46.5 249.8,45.9 250.8,45.6 251.8,45.6Z"/>
<path fill="#00a891" d="M110.8,45.1 112.8,45.5 117.8,48.0 119.8,48.7 126.0,49.5 128.5,50.5 129.3,51.5 129.0,52.5 126.8,53.5 123.8,53.8 120.8,53.6 119.8,53.8 119.4,54.5 119.2,57.5 119.5,70.5 119.3,74.5 118.8,77.8 117.8,80.8 116.8,82.6 115.8,83.4 114.8,83.5 113.8,83.0 112.8,82.0 108.8,77.0 106.8,73.5 105.8,70.2 103.8,59.7 103.6,56.5 103.8,53.5 104.8,49.5 105.9,47.5 107.1,46.5 108.8,45.4ZM254.8,46.0 255.8,46.4 257.2,47.5 257.9,48.5 259.3,51.5 260.4,55.5 261.8,62.5 263.0,70.5 263.8,78.5 264.5,89.5 265.0,100.5 265.2,113.5 265.0,137.5 263.7,165.5 262.9,173.5 261.9,179.5 260.3,185.5 259.5,187.5 258.3,189.5 257.6,190.5 256.5,191.5 255.8,191.8 252.8,192.1 251.6,192.5 251.9,193.5 253.0,194.5 251.8,195.6 248.8,196.2 243.8,196.4 231.8,196.1 224.8,195.2 221.8,194.5 218.8,193.5 216.7,192.5 215.5,191.5 215.0,190.5 215.1,189.5 215.5,188.5 217.4,186.5 218.8,185.5 220.8,184.4 223.2,183.5 225.8,182.9 228.8,182.5 231.8,182.5 239.8,183.6 240.8,182.5 241.1,180.5 241.1,177.5 240.4,168.5 240.3,163.5 240.8,144.5 240.6,121.5 240.8,105.5 241.4,91.5 242.3,78.5 242.9,71.5 244.6,58.5 244.4,52.5 245.0,50.5 245.6,49.5 246.4,48.5 247.6,47.5 249.8,46.1 250.8,45.7 251.8,45.6ZM111.8,161.5 112.8,161.3 113.8,161.7 114.8,163.1 115.4,164.5 116.8,166.5 118.8,170.3 119.8,173.7 119.9,178.5 119.4,183.5 118.5,186.5 116.8,189.5 116.8,189.8 117.4,190.5 118.8,190.9 124.8,190.4 128.8,190.7 131.2,191.5 131.7,192.5 130.5,193.5 127.2,194.5 124.8,194.8 117.8,194.9 113.0,195.5 110.5,195.5 108.8,195.1 107.7,194.5 108.7,193.5 109.2,192.5 106.1,191.5 105.1,190.5 104.2,188.5 103.8,185.5 104.2,178.5 104.2,172.5 104.4,169.5 104.8,168.1 105.8,166.5 109.8,162.9Z"/>
<path fill="#0aaa7f" d="M108.8,45.5 111.3,45.5 113.8,46.4 117.0,48.5 118.1,49.5 118.9,50.5 119.1,51.5 118.8,51.9 118.6,53.5 118.5,60.5 117.8,65.9 116.8,68.1 115.8,68.7 114.8,68.4 113.8,67.9 107.8,63.4 106.8,62.5 105.8,61.2 104.8,59.0 104.2,54.5 104.6,50.5 105.4,48.5 106.1,47.5 107.8,46.0ZM254.8,46.0 255.8,46.5 257.0,47.5 257.8,48.5 258.8,50.5 259.9,54.5 261.5,63.5 262.3,69.5 262.9,75.5 263.6,86.5 264.3,109.5 264.2,134.5 263.2,165.5 262.8,171.5 261.7,178.5 260.9,182.5 260.0,185.5 259.2,187.5 258.2,189.5 257.4,190.5 256.4,191.5 255.8,191.8 252.8,192.0 251.3,192.5 251.8,193.5 252.9,194.5 251.8,195.2 249.8,195.7 245.8,195.8 233.8,195.3 227.8,194.6 222.8,193.3 220.7,192.5 219.1,191.5 218.2,190.5 217.9,189.5 218.1,188.5 218.6,187.5 219.5,186.5 220.9,185.5 222.8,184.5 225.8,183.6 227.8,183.2 229.8,183.1 232.8,183.2 235.8,183.7 239.8,184.7 240.8,184.6 241.3,183.5 241.5,178.5 240.8,168.5 240.7,163.5 241.6,143.5 241.5,118.5 241.7,103.5 242.3,90.5 243.0,77.5 243.7,69.5 245.0,58.5 244.8,52.5 245.3,50.5 245.9,49.5 246.8,48.5 248.8,46.9 250.8,45.8 251.8,45.7ZM116.8,177.5 117.8,178.6 118.7,181.5 118.8,183.5 118.2,186.5 117.2,188.5 115.8,190.5 116.5,191.5 116.7,192.5 115.9,193.5 113.8,194.5 112.8,194.8 110.8,195.0 108.1,194.5 109.5,192.5 106.2,191.5 105.3,190.5 104.8,189.5 104.4,186.5 104.7,184.5 105.8,182.2 106.8,181.0 107.8,180.2 109.8,179.0 112.8,177.7 114.8,177.2 115.8,177.2Z"/>
<path fill="#14ab6d" d="M107.8,46.1 108.8,45.7 109.8,45.6 112.8,46.3 114.9,47.5 116.0,48.5 116.8,49.5 117.3,50.5 117.6,51.5 118.0,54.5 117.8,57.6 116.8,59.8 115.8,60.6 114.8,61.0 113.8,61.1 110.8,60.4 107.8,58.7 106.8,57.9 105.8,56.6 104.8,54.3 104.7,52.5 104.8,50.5 105.8,48.1 106.2,47.5ZM254.8,46.1 255.7,46.5 256.9,47.5 257.6,48.5 258.6,50.5 259.4,53.5 260.8,61.9 261.8,69.5 262.7,83.5 263.4,108.5 263.3,134.5 262.7,166.5 262.1,173.5 261.2,179.5 260.4,183.5 259.4,186.5 258.6,188.5 257.3,190.5 255.8,191.7 252.8,192.0 251.0,192.5 251.8,194.0 252.8,194.5 249.8,195.1 246.8,195.2 233.8,194.4 228.8,193.7 224.3,192.5 222.2,191.5 221.0,190.5 220.4,189.5 220.4,188.5 220.7,187.5 221.6,186.5 223.0,185.5 225.4,184.5 226.8,184.2 230.8,183.8 232.8,183.9 235.8,184.4 240.8,185.9 241.8,185.8 241.9,185.5 241.9,178.5 241.2,168.5 241.2,163.5 242.5,142.5 242.6,113.5 243.0,94.5 243.9,74.5 245.4,58.5 245.1,52.5 245.6,50.5 246.2,49.5 247.0,48.5 248.8,47.0 250.8,45.8 251.8,45.8ZM114.8,180.3 115.8,180.6 116.8,181.3 117.6,182.5 118.0,184.5 117.8,186.5 116.9,188.5 115.3,190.5 114.9,192.5 113.8,193.5 111.8,194.2 110.8,194.3 109.8,194.2 109.4,193.5 109.8,192.5 106.4,191.5 105.5,190.5 104.9,188.5 104.9,187.5 105.3,185.5 106.8,183.2 107.8,182.3 109.8,181.0 112.8,180.2Z"/>
<path fill="#20ae5f" d="M107.8,46.1 108.8,45.8 109.8,45.7 112.8,46.7 114.2,47.5 115.3,48.5 116.5,50.5 117.2,52.5 117.3,54.5 116.8,56.4 115.8,57.6 114.8,58.2 113.8,58.5 112.8,58.6 110.8,58.2 108.8,57.3 107.8,56.5 106.1,54.5 105.2,52.5 105.2,50.5 105.7,48.5 106.3,47.5ZM251.8,45.8 254.8,46.1 255.6,46.5 256.8,47.5 258.0,49.5 258.7,51.5 259.3,54.5 261.1,69.5 261.8,82.5 262.4,106.5 262.4,124.5 262.1,166.5 261.8,172.5 260.9,179.5 259.8,184.5 258.3,188.5 257.1,190.5 256.1,191.5 254.8,191.9 252.8,191.9 250.6,192.5 251.1,193.5 250.8,194.2 249.6,194.5 247.8,194.6 241.8,193.9 233.8,193.4 228.8,192.7 225.8,191.7 223.8,190.6 222.9,189.5 222.6,188.5 222.9,187.5 223.8,186.5 224.8,185.9 226.8,185.1 229.8,184.6 231.8,184.6 234.8,185.0 236.8,185.5 241.8,187.5 242.8,187.7 242.9,187.5 243.0,186.5 242.4,181.5 241.7,170.5 241.6,164.5 241.9,159.5 243.2,146.5 243.6,140.5 243.9,98.5 244.6,74.5 245.8,58.5 245.4,52.5 245.9,50.5 247.2,48.5 248.2,47.5 250.8,45.9ZM114.8,181.7 115.8,182.2 116.9,183.5 117.3,184.5 117.3,186.5 116.5,188.5 113.9,191.5 113.5,192.5 111.9,193.5 110.8,193.6 110.5,193.5 110.4,192.5 106.5,191.5 105.7,190.5 105.3,188.5 105.7,186.5 106.9,184.5 108.8,182.7 110.8,181.7 112.8,181.3Z"/>
<path fill="#2eb154" d="M107.8,46.2 109.8,45.9 110.8,46.4 111.8,46.6 113.8,47.7 115.5,49.5 116.4,51.5 116.7,53.5 116.5,54.5 116.0,55.5 114.8,56.7 113.8,57.2 112.8,57.4 110.8,57.1 108.8,56.1 107.8,55.2 106.5,53.5 105.6,51.5 105.6,50.5 105.8,48.6 106.5,47.5ZM251.8,45.9 254.8,46.2 255.5,46.5 256.6,47.5 257.8,49.5 258.8,53.5 260.1,65.5 260.7,75.5 261.1,94.5 261.3,116.5 261.2,147.5 261.5,167.5 261.3,173.5 260.6,179.5 259.6,184.5 258.1,188.5 256.9,190.5 256.0,191.5 254.8,191.8 252.8,191.9 249.8,192.5 250.3,193.5 248.8,193.8 246.8,193.7 242.8,192.9 234.8,192.5 229.8,191.7 226.7,190.5 225.5,189.5 225.1,188.5 225.4,187.5 226.8,186.4 228.8,185.7 231.8,185.5 233.8,185.8 236.7,186.5 243.8,189.8 244.8,189.9 244.9,189.5 243.4,185.5 242.8,182.5 242.1,170.5 242.0,166.5 242.4,159.5 244.4,144.5 244.8,137.5 245.3,75.5 246.3,58.5 245.8,52.5 246.2,50.5 247.4,48.5 248.4,47.5 250.8,46.0ZM113.8,182.3 114.8,182.7 115.8,183.5 116.5,184.5 116.8,185.5 116.7,187.5 115.5,189.5 113.8,191.3 113.1,191.5 112.8,191.9 111.8,192.5 109.8,192.2 106.7,191.5 106.0,190.5 105.8,189.5 105.8,188.5 106.4,186.5 106.9,185.5 107.8,184.4 109.8,182.9 111.8,182.2Z"/>
<path fill="#3cb54a" d="M107.8,46.3 109.8,46.0 110.8,46.6 111.8,46.7 113.8,48.1 115.1,49.5 116.0,51.5 116.1,52.5 115.8,54.2 114.8,55.6 113.8,56.2 112.8,56.5 110.8,56.3 108.8,55.2 107.2,53.5 106.2,51.5 105.9,49.5 106.6,47.5ZM251.8,46.0 254.8,46.2 255.4,46.5 256.5,47.5 257.1,48.5 257.9,50.5 258.5,53.5 258.8,56.5 259.5,66.5 259.7,73.5 259.9,145.5 260.1,152.5 260.8,163.5 260.9,169.5 260.6,175.5 259.9,181.5 259.0,185.5 257.9,188.5 256.8,190.5 255.8,191.5 254.8,191.8 252.8,191.8 249.8,192.4 248.8,192.3 248.1,191.5 246.8,190.7 245.8,189.5 244.6,187.5 243.6,184.5 243.0,180.5 242.4,170.5 242.4,166.5 243.0,159.5 245.7,144.5 246.1,140.5 246.4,135.5 246.6,97.5 246.1,73.5 246.7,58.5 246.1,52.5 246.5,50.5 247.6,48.5 248.6,47.5 250.8,46.1ZM115.7,184.5 116.1,185.5 116.3,186.5 116.2,187.5 115.9,188.5 115.3,189.5 113.8,191.0 112.8,191.4 111.8,192.3 110.8,192.3 106.8,191.5 106.2,189.5 106.5,187.5 107.6,185.5 108.8,184.2 110.8,183.1 112.8,182.8 113.8,183.0 114.7,183.5ZM228.6,188.5 229.3,187.5 231.8,187.0 233.8,187.2 235.2,187.5 237.4,188.5 238.8,189.5 239.0,190.5 235.8,190.9 231.8,190.6 229.3,189.5Z"/>
<path fill="#5cbc46" d="M107.8,46.4 109.8,46.1 110.8,46.8 111.8,46.9 113.8,48.5 114.7,49.5 115.3,50.5 115.6,51.5 115.6,52.5 115.4,53.5 114.8,54.5 113.8,55.4 112.8,55.8 111.8,55.8 110.8,55.6 109.8,55.1 108.8,54.4 107.2,52.5 106.5,50.5 106.4,49.5 106.8,47.5ZM251.8,46.0 254.8,46.3 256.3,47.5 257.0,48.5 257.7,50.5 258.3,54.5 258.7,68.5 257.5,94.5 257.5,135.5 258.0,146.5 259.9,162.5 260.3,167.5 260.3,171.5 260.1,176.5 259.5,181.5 258.8,185.3 257.7,188.5 256.6,190.5 255.7,191.5 249.8,192.2 248.8,191.8 247.8,191.1 246.2,189.5 245.0,187.5 244.3,185.5 243.7,183.5 243.3,180.5 242.8,167.5 243.0,163.5 243.8,158.4 244.8,154.0 247.2,145.5 248.2,140.5 248.6,136.5 248.9,131.5 249.0,114.5 248.9,101.5 248.5,93.5 246.9,75.5 246.8,69.5 247.2,58.5 246.6,53.5 246.5,51.5 247.2,49.5 247.8,48.5 248.7,47.5 249.8,46.9 250.8,46.1ZM114.9,184.5 115.5,185.5 115.8,186.5 115.8,187.5 115.6,188.5 115.0,189.5 113.8,190.8 112.8,191.2 111.8,192.0 110.8,192.1 107.3,191.5 106.8,190.5 106.8,188.5 107.5,186.5 108.8,184.9 109.8,184.1 111.8,183.4 112.8,183.4 113.8,183.7Z"/>
<path fill="#7dc341" d="M107.8,46.5 109.8,46.3 110.8,46.9 111.8,47.1 113.6,48.5 114.4,49.5 114.9,50.5 115.1,51.5 115.1,52.5 114.7,53.5 113.8,54.6 112.8,55.1 111.8,55.2 110.8,55.0 109.8,54.5 108.8,53.7 107.8,52.5 107.3,51.5 106.8,49.5 106.9,48.5 107.2,47.5ZM251.8,46.1 254.8,46.3 255.2,46.5 256.2,47.5 256.8,48.5 257.8,52.1 258.0,56.5 257.8,68.5 257.3,73.5 256.5,78.5 255.6,82.5 254.5,85.5 253.8,87.0 252.8,88.2 251.8,88.5 250.8,87.8 249.8,85.8 248.8,82.2 248.2,78.5 247.5,70.5 247.6,57.5 246.9,52.5 247.1,50.5 248.1,48.5 248.9,47.5 249.8,47.1 250.8,46.2ZM251.8,146.2 252.8,146.7 253.8,147.6 254.8,149.0 256.4,152.5 257.8,157.0 258.8,161.7 259.5,166.5 259.8,171.5 259.7,175.5 258.8,183.9 257.9,187.5 257.0,189.5 255.5,191.5 249.8,192.1 247.8,190.8 246.6,189.5 245.4,187.5 244.3,184.5 243.7,180.5 243.3,171.5 243.2,167.5 243.6,163.5 244.3,159.5 245.8,154.2 246.8,151.7 248.8,148.0 249.8,146.9 250.8,146.2ZM114.0,184.5 114.9,185.5 115.3,186.5 115.3,187.5 115.2,188.5 114.7,189.5 113.8,190.5 112.8,191.0 111.8,191.8 110.8,191.9 107.8,191.5 107.3,190.5 107.2,188.5 107.8,186.9 108.8,185.5 109.8,184.7 110.8,184.2 111.8,183.9 112.8,184.0Z"/>
<path fill="#a0cc38" d="M108.5,46.5 109.8,46.4 110.8,47.1 111.8,47.3 113.3,48.5 114.1,49.5 114.5,50.5 114.7,51.5 114.5,52.5 113.8,53.8 112.8,54.5 111.8,54.6 110.8,54.4 109.8,53.9 108.8,53.0 107.8,51.5 107.3,49.5 107.4,48.5 107.8,47.3ZM251.8,46.2 254.8,46.4 256.0,47.5 256.8,49.1 257.2,50.5 257.6,54.5 257.0,66.5 256.1,73.5 255.0,77.5 253.8,80.3 252.8,81.6 251.8,82.0 250.8,81.4 249.8,79.5 248.8,75.4 248.2,68.5 248.1,58.5 247.3,51.5 247.7,49.5 249.1,47.5 250.8,46.3ZM249.8,151.9 250.8,151.9 251.8,152.2 252.8,152.9 254.2,154.5 255.5,156.5 256.8,159.4 257.7,162.5 258.8,168.1 259.1,171.5 259.1,175.5 258.9,180.5 258.5,183.5 257.8,186.7 256.8,189.4 255.3,191.5 249.8,191.9 247.8,190.5 246.3,188.5 245.4,186.5 244.7,184.5 244.1,181.5 243.6,169.5 243.8,166.0 244.3,162.5 245.4,158.5 246.8,155.0 247.8,153.5 248.8,152.5ZM113.8,185.0 114.7,186.5 114.9,187.5 114.7,188.5 114.3,189.5 113.4,190.5 111.8,191.6 110.8,191.8 108.5,191.5 107.8,190.5 107.6,189.5 107.7,188.5 108.0,187.5 108.8,186.1 109.8,185.2 110.8,184.7 111.8,184.4 112.8,184.5Z"/>
<path fill="#c5d92a" d="M251.8,46.2 254.8,46.4 255.9,47.5 256.8,49.7 257.2,53.5 256.3,65.5 255.3,71.5 254.8,73.5 253.8,76.0 252.8,77.4 251.8,77.8 250.8,77.1 250.1,75.5 249.2,71.5 248.8,67.1 248.6,58.5 247.7,51.5 247.8,50.4 248.6,48.5 249.4,47.5 250.6,46.5ZM108.8,47.0 109.8,46.6 110.8,47.3 111.8,47.5 113.0,48.5 113.8,49.5 114.1,50.5 114.2,51.5 114.0,52.5 112.8,53.8 111.8,54.0 110.8,53.9 109.8,53.3 108.9,52.5 108.3,51.5 107.9,50.5 107.8,49.4 107.9,48.5ZM249.8,155.3 250.8,155.4 251.8,155.9 253.5,157.5 254.8,159.3 255.8,161.2 256.8,163.8 258.1,169.5 258.4,172.5 258.5,176.5 258.3,180.5 257.9,184.5 256.8,188.7 255.9,190.5 255.1,191.5 249.8,191.7 248.1,190.5 246.6,188.5 245.8,186.7 244.6,182.5 244.4,179.5 244.1,170.5 244.3,166.5 244.8,163.5 245.8,159.9 246.8,157.8 247.8,156.4 248.8,155.6ZM113.5,185.5 114.2,186.5 114.4,187.5 114.3,188.5 113.9,189.5 113.0,190.5 111.3,191.5 109.4,191.5 108.4,190.5 108.1,189.5 108.2,188.5 108.8,186.9 109.8,185.8 110.8,185.2 111.8,185.0 112.8,185.1Z"/>
<path fill="#e2e419" d="M252.8,46.3 254.8,46.5 255.8,47.8 256.7,50.5 256.9,53.5 255.6,64.5 254.8,69.3 253.8,72.3 252.8,73.9 251.8,74.2 250.8,73.1 249.8,69.3 249.2,58.5 248.2,51.5 248.2,50.5 248.8,48.5 249.6,47.5 250.8,46.5ZM109.3,47.5 109.8,47.2 111.2,47.5 112.8,48.7 113.6,50.5 113.7,51.5 113.3,52.5 112.8,53.1 111.8,53.5 110.8,53.3 109.8,52.7 108.8,51.5 108.4,50.5 108.3,49.5 108.5,48.5ZM249.8,158.1 250.8,158.3 251.8,158.8 253.4,160.5 254.7,162.5 256.3,166.5 257.4,171.5 257.8,177.5 257.5,183.5 256.8,187.6 255.8,190.0 254.8,191.5 249.8,191.6 248.5,190.5 247.6,189.5 246.8,188.0 245.8,185.7 244.9,181.5 244.6,171.5 244.8,167.5 245.1,165.5 245.8,162.7 246.8,160.4 247.8,159.1 248.8,158.3ZM112.8,185.8 113.6,186.5 113.9,187.5 113.8,188.5 113.3,189.5 112.5,190.5 110.8,191.2 109.8,191.1 109.1,190.5 108.7,189.5 108.6,188.5 109.0,187.5 109.8,186.4 110.8,185.7 111.8,185.5Z"/>
<path fill="#f9ef05" d="M253.8,46.4 254.6,46.5 255.9,48.5 256.5,51.5 256.5,53.5 254.8,64.0 253.8,68.1 252.8,70.0 251.8,70.2 250.9,68.5 250.7,67.5 249.7,58.5 248.7,52.5 248.7,50.5 248.9,49.5 249.8,47.5 251.0,46.5ZM109.8,48.1 110.8,48.0 111.8,48.4 112.7,49.5 113.0,50.5 113.0,51.5 112.2,52.5 111.8,52.7 110.8,52.6 109.6,51.5 109.1,50.5 109.0,49.5 109.4,48.5ZM249.8,160.9 250.8,161.2 251.8,161.8 252.8,162.9 253.8,164.4 254.8,166.4 255.8,169.4 256.6,173.5 256.9,178.5 256.8,184.5 255.8,188.6 254.8,190.6 254.0,191.5 250.2,191.5 248.9,190.5 247.8,188.9 246.8,186.9 245.7,183.5 245.4,179.5 245.2,173.5 245.4,169.5 245.7,166.5 246.8,163.3 247.8,161.9 248.8,161.1ZM112.6,186.5 113.1,187.5 113.1,188.5 112.7,189.5 111.8,190.2 110.8,190.6 109.8,190.2 109.4,189.5 109.3,188.5 109.8,187.3 110.8,186.4 111.8,186.2Z"/>
<path fill="#fee004" d="M251.8,46.4 254.2,46.5 254.8,47.2 255.8,49.3 256.1,51.5 255.9,54.5 254.8,59.2 253.8,62.1 252.8,63.5 251.8,63.1 250.8,60.3 249.2,52.5 249.2,50.5 249.7,48.5 250.3,47.5 251.4,46.5ZM249.8,165.8 250.8,166.1 251.3,166.5 252.8,168.5 253.8,171.0 254.9,176.5 255.2,182.5 254.8,186.6 253.8,188.6 252.8,189.5 251.8,189.8 250.3,189.5 249.8,189.1 248.8,188.0 247.8,186.1 246.8,182.5 246.6,175.5 246.8,170.1 247.8,167.2 248.8,166.0Z"/>
<path fill="#fdc80a" d="M251.8,46.5 253.8,46.5 254.6,47.5 255.4,49.5 255.7,51.5 255.6,53.5 254.8,56.7 253.8,58.7 252.8,59.5 251.8,59.1 250.8,57.2 249.7,52.5 249.8,50.5 250.0,49.5 250.8,47.6Z"/>
<path fill="#faaf14" d="M252.8,47.1 253.8,47.5 254.5,48.5 254.9,49.5 255.2,51.5 254.8,54.7 253.8,56.8 252.8,57.4 251.8,57.0 250.8,55.1 250.4,53.5 250.2,51.5 250.5,49.5 251.0,48.5 251.8,47.5Z"/>
<path fill="#f7961d" d="M252.8,48.2 253.8,48.7 254.6,50.5 254.7,51.5 254.7,52.5 253.8,55.1 252.8,55.8 251.8,55.3 251.4,54.5 250.8,52.5 250.8,51.5 250.9,50.5 251.8,48.6Z"/>
<path fill="#f5881f" d="M252.8,49.4 253.8,50.3 254.0,51.5 253.8,53.1 252.8,54.2 251.8,53.4 251.5,51.5 251.8,50.2Z"/>
</g></g>
<g stroke="#000" stroke-width="1" fill="none">
<path d="M24.3,237.0V1.0H336.3V237.0" stroke="#141845" stroke-width="0.8"/>
<path d="M23.9,237.0H336.7" stroke="#000" stroke-width="1"/>
<path d="M24.3,237.0v-3.5M24.3,1.0v3.5M76.3,237.0v-3.5M76.3,1.0v3.5M128.3,237.0v-3.5M128.3,1.0v3.5M180.3,237.0v-3.5M180.3,1.0v3.5M232.3,237.0v-3.5M232.3,1.0v3.5M284.3,237.0v-3.5M284.3,1.0v3.5M336.3,237.0v-3.5M336.3,1.0v3.5M24.3,237.0h3.5M336.3,237.0h-3.5M24.3,184.8h3.5M336.3,184.8h-3.5M24.3,132.5h3.5M336.3,132.5h-3.5M24.3,80.2h3.5M336.3,80.2h-3.5M24.3,28.0h3.5M336.3,28.0h-3.5"/>
</g>
<text x="25.8" y="250.6" text-anchor="middle" style="font-size:10.4px">0</text>
<text x="77.8" y="250.6" text-anchor="middle" style="font-size:10.4px">0.05</text>
<text x="129.8" y="250.6" text-anchor="middle" style="font-size:10.4px">0.1</text>
<text x="181.8" y="250.6" text-anchor="middle" style="font-size:10.4px">0.15</text>
<text x="233.8" y="250.6" text-anchor="middle" style="font-size:10.4px">0.2</text>
<text x="285.8" y="250.6" text-anchor="middle" style="font-size:10.4px">0.25</text>
<text x="337.8" y="250.6" text-anchor="middle" style="font-size:10.4px">0.3</text>
<text x="20" y="237.6" text-anchor="end">0</text>
<text x="20" y="188.3" text-anchor="end">0.05</text>
<text x="20" y="136.1" text-anchor="end">0.1</text>
<text x="20" y="83.8" text-anchor="end">0.15</text>
<text x="20" y="31.6" text-anchor="end">0.2</text>
<rect x="80.9" y="111.5" width="197.6" height="15.5" fill="none" stroke="#e4e9f6" stroke-width="0.9"/>
<circle cx="107.7" cy="46.0" r="3.2" fill="#000"/>
<circle cx="252.9" cy="46.0" r="3.2" fill="#000"/>
<circle cx="107.7" cy="192.4" r="3.2" fill="#000"/>
<circle cx="252.9" cy="192.4" r="3.2" fill="#000"/>
<polygon points="179.5,113.5 180.8,117.0 184.5,117.2 181.6,119.5 182.6,123.1 179.5,121.0 176.4,123.1 177.4,119.5 174.5,117.2 178.2,117.0" fill="none" stroke="#fff" stroke-width="1"/>
<text class="an" x="42" y="80.2">Stiffener</text>
<text class="an" x="61.5" y="172">Impact Location</text>
<text class="an" x="183.8" y="146" style="fill:#ee3e2c">Predicted Damage</text>
<path d="M83.0,82.6L97.1,103.3" stroke="#fff" stroke-width="1.15" fill="none"/>
<path d="M101.3,109.5L94.4,105.1L99.7,101.5Z" fill="#fff"/>
<path d="M139.4,162.7L169.8,131.7" stroke="#fff" stroke-width="1.15" fill="none"/>
<path d="M175.1,126.3L172.1,133.9L167.6,129.4Z" fill="#fff"/>
<path d="M229.5,147.5L246.0,179.2" stroke="#ee3e2c" stroke-width="1.15" fill="none"/>
<path d="M250.8,188.5L242.2,181.1L249.7,177.2Z" fill="#ee3e2c"/>
<rect x="346.5" y="0.6" width="14.3" height="236.4" fill="url(#cb)"/>
<rect x="346.5" y="0.6" width="14.3" height="236.4" fill="none" stroke="#333" stroke-width="0.8"/>
<text x="367" y="216.7">0.2</text>
<text x="367" y="192.8">0.4</text>
<text x="367" y="168.9">0.6</text>
<text x="367" y="145.0">0.8</text>
<text x="367" y="121.1">1</text>
<text x="367" y="97.2">1.2</text>
<text x="367" y="73.3">1.4</text>
<text x="367" y="49.4">1.6</text>
<text x="367" y="25.5">1.8</text>
<path d="M346.5,213.1h2M360.8,213.1h-2M346.5,189.2h2M360.8,189.2h-2M346.5,165.3h2M360.8,165.3h-2M346.5,141.4h2M360.8,141.4h-2M346.5,117.5h2M360.8,117.5h-2M346.5,93.6h2M360.8,93.6h-2M346.5,69.7h2M360.8,69.7h-2M346.5,45.8h2M360.8,45.8h-2M346.5,21.9h2M360.8,21.9h-2" stroke="#222" stroke-width="0.8" fill="none"/>
<text class="cap" x="173.2" y="283.6" text-anchor="middle">(a)</text>
<rect x="442.4" y="17.2" width="277.4" height="215.8" fill="#fff" stroke="#6e6e6e" stroke-width="0.9"/>
<text x="444.1" y="245.9" text-anchor="middle" style="font-size:10.4px">0</text>
<text x="478.8" y="245.9" text-anchor="middle" style="font-size:10.4px">0.2</text>
<text x="513.5" y="245.9" text-anchor="middle" style="font-size:10.4px">0.4</text>
<text x="548.1" y="245.9" text-anchor="middle" style="font-size:10.4px">0.6</text>
<text x="582.8" y="245.9" text-anchor="middle" style="font-size:10.4px">0.8</text>
<text x="617.5" y="245.9" text-anchor="middle" style="font-size:10.4px">1</text>
<text x="652.1" y="245.9" text-anchor="middle" style="font-size:10.4px">1.2</text>
<text x="686.8" y="245.9" text-anchor="middle" style="font-size:10.4px">1.4</text>
<text x="721.5" y="245.9" text-anchor="middle" style="font-size:10.4px">1.6</text>
<text x="438" y="29.9" text-anchor="end">0.2</text>
<text x="438" y="54.5" text-anchor="end">0.15</text>
<text x="438" y="79.1" text-anchor="end">0.1</text>
<text x="438" y="103.7" text-anchor="end">0.05</text>
<text x="438" y="128.3" text-anchor="end">0</text>
<text x="438" y="152.9" text-anchor="end">-0.05</text>
<text x="438" y="177.5" text-anchor="end">0.1</text>
<text x="438" y="202.1" text-anchor="end">-0.15</text>
<text x="438" y="226.7" text-anchor="end">0.2</text>
<path d="M442.4,233v-3M442.4,17.2v3M477.1,233v-3M477.1,17.2v3M511.8,233v-3M511.8,17.2v3M546.4,233v-3M546.4,17.2v3M581.1,233v-3M581.1,17.2v3M615.8,233v-3M615.8,17.2v3M650.4,233v-3M650.4,17.2v3M685.1,233v-3M685.1,17.2v3M719.8,233v-3M719.8,17.2v3M442.4,26.3h3M719.8,26.3h-3M442.4,50.9h3M719.8,50.9h-3M442.4,75.5h3M719.8,75.5h-3M442.4,100.1h3M719.8,100.1h-3M442.4,124.7h3M719.8,124.7h-3M442.4,149.3h3M719.8,149.3h-3M442.4,173.9h3M719.8,173.9h-3M442.4,198.5h3M719.8,198.5h-3M442.4,223.1h3M719.8,223.1h-3" stroke="#6e6e6e" stroke-width="0.9" fill="none"/>
<g clip-path="url(#cp2)" fill="none" stroke-linejoin="round">
<path d="M442.4,124.7 442.9,124.3 443.4,124.0 443.9,123.8 444.4,123.8 444.9,124.0 445.4,124.2 445.9,124.6 446.4,125.0 446.9,125.3 447.4,125.5 447.9,125.6 448.4,125.5 448.9,125.3 449.4,124.9 449.9,124.5 450.4,124.2 450.9,123.9 451.4,123.8 451.9,123.9 452.4,124.1 452.9,124.4 453.4,124.7 453.9,125.1 454.4,125.4 454.9,125.6 455.4,125.6 455.9,125.4 456.4,125.1 456.9,124.8 457.4,124.4 457.9,124.1 458.4,123.9 458.9,123.8 459.4,123.9 459.9,124.2 460.4,124.5 460.9,124.9 461.4,125.2 461.9,125.5 462.4,125.6 462.9,125.5 463.4,125.3 463.9,125.0 464.4,124.6 464.9,124.3 465.4,124.0 465.9,123.8 466.4,123.8 466.9,124.0 467.4,124.3 467.9,124.7 468.4,125.0 468.9,125.3 469.4,125.5 469.9,125.6 470.4,125.5 470.9,125.2 471.4,124.9 471.9,124.5 472.4,124.1 472.9,123.9 473.4,123.8 473.9,123.9 474.4,124.1 474.9,124.4 475.4,124.8 475.9,125.2 476.4,125.4 476.9,125.6 477.4,125.6 477.9,125.4 478.4,125.1 478.9,124.7 479.4,124.3 479.9,124.0 480.4,123.8 480.9,123.8 481.4,124.0 481.9,124.2 482.4,124.6 482.9,125.0 483.4,125.3 483.9,125.5 484.4,125.6 484.9,125.5 485.4,125.3 485.9,124.9 486.4,124.5 486.9,124.2 487.4,123.9 487.9,123.8 488.4,123.9 488.9,124.1 489.4,124.4 489.9,124.7 490.4,125.1 490.9,125.4 491.4,125.6 491.9,125.6 492.4,125.4 492.9,125.1 493.4,124.8 493.9,124.4 494.4,124.1 494.9,123.9 495.4,123.8 495.9,123.9 496.4,124.2 496.9,124.5 497.4,124.9 497.9,125.2 498.4,125.5 498.9,125.6 499.4,125.5 499.9,125.3 500.4,125.0 500.9,124.6 501.4,124.3 501.9,124.0 502.4,123.8 502.9,123.8 503.4,124.0 503.9,124.3 504.4,124.7 504.9,125.0 505.4,125.3 505.9,125.5 506.4,125.6 506.9,125.5 507.4,125.2 508.0,124.7 508.5,124.6 508.9,124.2 509.4,123.7 509.8,123.2 510.3,122.9 510.7,122.7 511.2,123.2 511.6,124.6 512.1,126.4 512.5,128.3 513.0,129.6 513.4,130.1 513.9,129.5 514.3,127.8 514.7,125.2 515.1,122.0 515.6,118.6 516.0,115.4 516.4,112.7 516.8,111.0 517.3,110.4 517.7,111.8 518.1,115.6 518.6,121.4 519.0,128.1 519.4,134.9 519.9,140.7 520.3,144.5 520.7,145.9 521.2,144.2 521.6,139.5 522.0,132.3 522.4,123.5 522.9,114.1 523.3,105.3 523.7,98.1 524.2,93.4 524.6,91.7 525.0,94.5 525.4,102.4 525.9,114.2 526.3,128.1 526.7,142.1 527.2,153.9 527.6,161.8 528.0,164.6 528.5,161.9 528.9,154.4 529.3,142.9 529.8,128.8 530.2,113.7 530.6,99.6 531.0,88.1 531.5,80.6 531.9,78.0 532.3,81.4 532.8,91.3 533.2,106.1 533.6,123.5 534.1,140.9 534.5,155.7 534.9,165.5 535.4,169.0 535.8,166.4 536.2,159.1 536.6,147.8 537.1,134.0 537.5,119.3 537.9,105.5 538.3,94.3 538.8,86.9 539.2,84.4 539.6,86.7 540.1,93.4 540.5,103.7 540.9,116.3 541.3,129.7 541.8,142.3 542.2,152.6 542.6,159.3 543.0,161.6 543.5,159.3 543.9,152.7 544.3,142.5 544.8,130.1 545.2,116.8 545.6,104.4 546.0,94.3 546.5,87.6 546.9,85.3 547.3,87.9 547.7,95.4 548.2,106.9 548.6,120.9 549.0,135.9 549.5,149.9 549.9,161.4 550.3,168.8 550.7,171.4 551.2,168.3 551.6,159.4 552.0,145.6 552.4,128.8 552.9,110.8 553.3,94.0 553.7,80.2 554.2,71.2 554.6,68.1 555.0,72.6 555.4,85.5 555.9,104.7 556.3,127.4 556.7,150.1 557.2,169.3 557.6,182.2 558.0,186.7 558.5,182.7 558.9,171.3 559.3,153.9 559.8,132.4 560.2,109.6 560.6,88.2 561.0,70.7 561.5,59.3 561.9,55.3 562.3,62.3 562.8,81.7 563.2,109.8 563.6,141.0 564.1,169.2 564.5,188.6 565.0,195.5 565.4,189.9 565.8,173.6 566.3,149.4 566.7,120.8 567.1,92.1 567.6,67.9 568.0,51.7 568.4,46.0 568.9,52.0 569.3,69.0 569.7,94.4 570.2,124.5 570.6,154.5 571.0,179.9 571.5,197.0 571.9,202.9 572.3,197.0 572.8,179.9 573.2,154.5 573.6,124.5 574.1,94.4 574.5,69.0 574.9,52.0 575.4,46.0 575.8,51.7 576.2,68.0 576.6,92.3 577.1,121.0 577.5,149.7 577.9,174.1 578.4,190.3 578.8,196.0 579.2,192.0 579.7,180.5 580.1,162.8 580.5,141.2 580.9,118.1 581.4,96.4 581.8,78.7 582.2,67.2 582.7,63.2 583.1,67.4 583.5,79.3 584.0,97.1 584.4,118.1 584.8,139.1 585.3,156.8 585.7,168.7 586.1,172.9 586.5,170.4 587.0,163.1 587.4,152.0 587.8,138.4 588.3,123.8 588.7,110.2 589.1,99.1 589.5,91.8 590.0,89.3 590.4,91.4 590.8,97.3 591.3,106.3 591.7,116.8 592.1,127.4 592.6,136.3 593.0,142.3 593.4,144.4 593.9,143.3 594.3,140.1 594.7,135.3 595.2,129.6 595.6,124.0 596.0,119.2 596.5,116.0 596.9,114.9 597.3,115.8 597.8,118.6 598.2,122.5 598.6,126.9 599.1,130.8 599.5,133.6 600.0,134.5 600.4,132.4 600.9,126.5 601.3,118.6 601.8,110.6 602.2,104.7 602.7,102.6 603.1,106.5 603.6,117.3 604.0,132.1 604.5,146.8 604.9,157.6 605.4,161.6 605.8,156.9 606.2,143.8 606.7,124.9 607.1,103.9 607.5,84.9 608.0,71.8 608.4,67.1 608.9,72.3 609.3,86.9 609.7,108.7 610.2,134.5 610.6,160.3 611.0,182.2 611.5,196.8 611.9,201.9 612.3,195.4 612.8,176.7 613.2,148.8 613.6,115.8 614.1,82.9 614.5,55.0 614.9,36.3 615.4,29.7 615.8,37.3 616.2,58.6 616.6,90.6 617.1,128.4 617.5,166.1 617.9,198.1 618.4,219.5 618.8,227.0 619.2,220.9 619.7,203.1 620.1,175.9 620.5,142.5 620.9,106.9 621.4,73.5 621.8,46.3 622.2,28.5 622.7,22.4 623.1,28.2 623.5,45.2 623.9,71.1 624.4,102.9 624.8,136.7 625.2,168.5 625.6,194.4 626.1,211.3 626.5,217.2 626.9,210.8 627.4,192.4 627.8,165.0 628.2,132.6 628.7,100.2 629.1,72.7 629.5,54.4 630.0,47.9 630.4,52.1 630.8,63.9 631.2,82.1 631.7,104.5 632.1,128.2 632.5,150.5 633.0,168.7 633.4,180.6 633.8,184.7 634.2,182.2 634.7,175.0 635.1,163.7 635.5,149.5 635.9,133.8 636.4,118.1 636.8,103.9 637.2,92.6 637.6,85.4 638.0,82.9 638.5,84.2 638.9,88.2 639.3,94.3 639.7,102.3 640.1,111.4 640.6,120.8 641.0,129.9 641.4,137.8 641.8,144.0 642.2,148.0 642.7,149.3 643.1,148.7 643.5,147.0 643.9,144.3 644.3,140.7 644.7,136.5 645.2,132.1 645.6,127.6 646.0,123.5 646.4,119.9 646.8,117.2 647.2,115.4 647.7,114.9 648.1,115.3 648.5,116.4 648.9,118.3 649.3,120.6 649.8,123.3 650.2,126.1 650.6,128.8 651.0,131.1 651.4,133.0 651.9,134.1 652.3,134.5 652.7,134.1 653.1,132.8 653.5,130.7 654.0,128.1 654.4,125.0 654.8,121.9 655.2,118.9 655.6,116.2 656.0,114.2 656.5,112.8 656.9,112.4 657.3,113.3 657.7,115.9 658.2,119.8 658.6,124.6 659.0,129.7 659.5,134.5 659.9,138.5 660.3,141.0 660.7,141.9 661.2,140.9 661.6,137.8 662.0,133.1 662.4,127.1 662.9,120.5 663.3,113.9 663.7,107.9 664.1,103.2 664.5,100.2 665.0,99.1 665.4,101.4 665.8,108.0 666.3,117.8 666.7,129.4 667.1,141.0 667.6,150.8 668.0,157.3 668.4,159.6 668.9,157.6 669.3,151.8 669.7,142.8 670.1,131.4 670.5,118.8 671.0,106.2 671.4,94.8 671.8,85.8 672.2,80.0 672.7,78.0 673.1,81.8 673.5,92.9 674.0,109.4 674.4,128.9 674.8,148.4 675.3,164.9 675.7,175.9 676.1,179.8 676.5,176.3 677.0,166.2 677.4,150.7 677.8,131.6 678.3,111.4 678.7,92.4 679.1,76.8 679.5,66.7 680.0,63.2 680.4,67.9 680.8,81.4 681.3,101.6 681.7,125.4 682.1,149.3 682.6,169.4 683.0,182.9 683.4,187.7 683.9,183.9 684.3,173.1 684.7,156.6 685.1,136.2 685.6,114.6 686.0,94.3 686.4,77.8 686.8,67.0 687.3,63.2 687.7,67.7 688.1,80.5 688.6,99.6 689.0,122.2 689.4,144.8 689.9,164.0 690.3,176.8 690.7,181.3 691.2,177.2 691.6,165.6 692.0,148.2 692.5,127.7 692.9,107.1 693.3,89.7 693.8,78.1 694.2,74.0 694.6,77.5 695.1,87.4 695.5,102.1 695.9,119.5 696.4,136.9 696.8,151.7 697.2,161.6 697.7,165.0 698.1,162.8 698.5,156.3 698.9,146.3 699.4,134.1 699.8,121.2 700.2,109.0 700.6,99.0 701.1,92.5 701.5,90.3 701.9,92.6 702.4,99.4 702.8,109.5 703.2,121.5 703.7,133.5 704.1,143.6 704.5,150.4 705.0,152.7 705.4,150.7 705.8,145.0 706.3,136.5 706.7,126.4 707.1,116.3 707.6,107.8 708.0,102.1 708.4,100.1 708.9,102.0 709.3,107.3 709.7,115.3 710.2,124.7 710.6,134.1 711.0,142.1 711.5,147.4 711.9,149.3 712.3,147.3 712.8,141.5 713.2,132.9 713.6,122.7 714.1,112.6 714.5,103.9 714.9,98.2 715.4,96.2 715.8,98.6 716.2,105.5 716.6,115.9 717.1,128.1 717.5,140.4 717.9,150.8 718.4,157.7 718.8,160.1 719.3,156.8 719.7,147.6" stroke="#ee3e2c" stroke-width="1.4" stroke-dasharray="3.2,1.8"/>
<path d="M442.4,124.7 442.9,124.6 443.4,124.5 443.9,124.5 444.4,124.5 444.9,124.5 445.4,124.6 445.9,124.7 446.4,124.8 446.9,124.9 447.4,124.9 447.9,124.9 448.4,124.9 448.9,124.9 449.4,124.8 449.9,124.7 450.4,124.6 450.9,124.5 451.4,124.5 451.9,124.5 452.4,124.5 452.9,124.6 453.4,124.7 453.9,124.8 454.4,124.9 454.9,124.9 455.4,124.9 455.9,124.9 456.4,124.8 456.9,124.7 457.4,124.6 457.9,124.5 458.4,124.5 458.9,124.5 459.4,124.5 459.9,124.6 460.4,124.6 460.9,124.8 461.4,124.8 461.9,124.9 462.4,124.9 462.9,124.9 463.4,124.9 463.9,124.8 464.4,124.7 464.9,124.6 465.4,124.5 465.9,124.5 466.4,124.5 466.9,124.5 467.4,124.6 467.9,124.7 468.4,124.8 468.9,124.9 469.4,124.9 469.9,124.9 470.4,124.9 470.9,124.8 471.4,124.7 471.9,124.6 472.4,124.5 472.9,124.5 473.4,124.5 473.9,124.5 474.4,124.5 474.9,124.6 475.4,124.7 475.9,124.8 476.4,124.9 476.9,124.9 477.4,124.9 477.9,124.9 478.4,124.8 478.9,124.7 479.4,124.6 479.9,124.5 480.4,124.5 480.9,124.5 481.4,124.5 481.9,124.6 482.4,124.7 482.9,124.8 483.4,124.9 483.9,124.9 484.4,124.9 484.9,124.9 485.4,124.9 485.9,124.8 486.4,124.7 486.9,124.6 487.4,124.5 487.9,124.5 488.4,124.5 488.9,124.5 489.4,124.6 489.9,124.7 490.4,124.8 490.9,124.9 491.4,124.9 491.9,124.9 492.4,124.9 492.9,124.8 493.4,124.7 493.9,124.6 494.4,124.5 494.9,124.5 495.4,124.5 495.9,124.5 496.4,124.6 496.9,124.6 497.4,124.8 497.9,124.8 498.4,124.9 498.9,124.9 499.4,124.9 499.9,124.9 500.4,124.8 500.9,124.7 501.4,124.6 501.9,124.5 502.4,124.5 502.9,124.5 503.4,124.5 503.9,124.6 504.4,124.7 504.9,124.8 505.4,124.9 505.9,124.9 506.4,124.9 506.9,124.9 507.4,124.8 507.7,124.7 508.1,124.6 508.6,124.2 509.0,123.7 509.5,123.2 509.9,122.9 510.4,122.7 510.8,123.2 511.3,124.6 511.7,126.4 512.2,128.3 512.6,129.6 513.1,130.1 513.5,129.6 513.9,128.0 514.4,125.6 514.8,122.6 515.2,119.4 515.6,116.5 516.1,114.0 516.5,112.5 516.9,111.9 517.4,113.2 517.8,116.9 518.2,122.4 518.7,128.9 519.1,135.4 519.5,140.9 520.0,144.6 520.4,145.9 520.8,144.3 521.2,139.6 521.7,132.6 522.1,123.9 522.5,114.7 522.9,106.0 523.4,98.9 523.8,94.3 524.2,92.7 524.7,95.4 525.1,103.1 525.5,114.6 526.0,128.1 526.4,141.7 526.8,153.2 527.3,160.9 527.7,163.6 528.1,161.1 528.5,154.1 529.0,143.3 529.4,130.0 529.8,115.9 530.3,102.7 530.7,91.9 531.1,84.8 531.5,82.4 532.0,85.6 532.4,94.9 532.8,108.8 533.3,125.2 533.7,141.6 534.1,155.5 534.6,164.7 535.0,168.0 535.4,165.5 535.9,158.2 536.3,147.1 536.7,133.4 537.1,118.9 537.6,105.3 538.0,94.1 538.4,86.9 538.8,84.4 539.3,86.7 539.7,93.4 540.1,103.7 540.6,116.3 541.0,129.7 541.4,142.3 541.8,152.6 542.3,159.3 542.7,161.6 543.1,159.3 543.5,152.7 544.0,142.5 544.4,130.1 544.8,116.8 545.3,104.4 545.7,94.3 546.1,87.6 546.5,85.3 547.0,87.9 547.4,95.2 547.8,106.5 548.2,120.3 548.7,135.0 549.1,148.8 549.5,160.1 550.0,167.4 550.4,170.0 550.8,167.1 551.2,158.8 551.7,146.1 552.1,130.5 552.5,114.0 552.9,98.4 553.4,85.7 553.8,77.4 554.2,74.5 554.7,78.5 555.1,89.8 555.5,106.7 556.0,126.7 556.4,146.6 556.8,163.5 557.3,174.9 557.7,178.8 558.1,175.6 558.5,166.5 559.0,152.5 559.4,135.3 559.8,117.0 560.3,99.9 560.7,85.8 561.1,76.7 561.5,73.5 562.0,78.8 562.4,93.7 562.9,115.2 563.3,139.1 563.7,160.6 564.2,175.5 564.6,180.8 565.0,176.7 565.5,164.9 565.9,147.4 566.3,126.7 566.8,106.0 567.2,88.4 567.6,76.7 568.1,72.5 568.5,76.7 568.9,88.4 569.4,106.0 569.8,126.7 570.2,147.4 570.7,164.9 571.1,176.7 571.5,180.8 572.0,176.7 572.4,164.9 572.8,147.4 573.3,126.7 573.7,106.0 574.1,88.4 574.6,76.7 575.0,72.5 575.4,76.4 575.9,87.5 576.3,104.1 576.7,123.7 577.2,143.3 577.6,159.9 578.0,171.0 578.5,174.9 578.9,172.1 579.3,164.1 579.7,151.8 580.2,136.7 580.6,120.6 581.0,105.5 581.5,93.2 581.9,85.2 582.3,82.4 582.7,85.4 583.2,94.0 583.6,106.8 584.0,122.0 584.5,137.2 584.9,150.0 585.3,158.6 585.8,161.6 586.2,159.1 586.6,151.9 587.1,141.3 587.5,128.6 587.9,116.0 588.4,105.3 588.8,98.2 589.2,95.7 589.7,98.3 590.1,105.5 590.5,115.9 591.0,127.6 591.4,138.0 591.9,145.2 592.3,147.8 592.7,145.6 593.2,139.5 593.6,130.6 594.1,120.8 594.5,111.9 594.9,105.7 595.4,103.5 595.8,105.6 596.3,111.2 596.7,119.4 597.1,128.5 597.6,136.7 598.0,142.4 598.5,144.4 598.9,142.1 599.3,135.6 599.8,126.2 600.2,115.8 600.7,106.4 601.1,100.0 601.5,97.6 602.0,100.9 602.4,110.1 602.9,123.3 603.3,137.9 603.7,151.2 604.2,160.3 604.6,163.6 605.0,159.9 605.5,149.4 605.9,133.8 606.3,115.4 606.8,96.9 607.2,81.3 607.6,70.8 608.1,67.1 608.5,72.3 608.9,86.9 609.4,108.7 609.8,134.5 610.2,160.3 610.7,182.2 611.1,196.8 611.5,201.9 612.0,195.6 612.4,177.4 612.8,150.2 613.3,118.1 613.7,86.0 614.1,58.7 614.6,40.6 615.0,34.2 615.4,41.1 615.9,61.0 616.3,90.7 616.7,125.7 617.2,160.7 617.6,190.4 618.0,210.2 618.5,217.2 618.9,211.6 619.3,195.5 619.7,170.8 620.2,140.6 620.6,108.3 621.0,78.1 621.5,53.4 621.9,37.3 622.3,31.7 622.7,37.0 623.2,52.1 623.6,75.3 624.0,103.7 624.4,133.9 624.9,162.3 625.3,185.5 625.7,200.6 626.2,205.9 626.6,200.3 627.0,184.4 627.5,160.6 627.9,132.6 628.3,104.5 628.8,80.7 629.2,64.8 629.6,59.3 630.0,62.7 630.5,72.6 630.9,87.7 631.3,106.2 631.8,126.0 632.2,144.5 632.6,159.6 633.0,169.5 633.5,172.9 633.9,170.5 634.3,163.4 634.7,152.6 635.2,139.4 635.6,125.3 636.0,112.0 636.5,101.2 636.9,94.2 637.3,91.7 637.7,93.1 638.2,97.1 638.6,103.3 639.0,111.1 639.4,119.8 639.8,128.4 640.3,136.3 640.7,142.5 641.1,146.5 641.5,147.8 642.0,147.2 642.4,145.3 642.8,142.3 643.2,138.3 643.6,133.5 644.0,128.4 644.4,123.0 644.9,117.8 645.3,113.1 645.7,109.1 646.1,106.1 646.5,104.2 646.9,103.5 647.4,104.8 647.8,108.6 648.2,114.4 648.6,121.4 649.1,129.0 649.5,136.0 649.9,141.8 650.3,145.5 650.8,146.8 651.2,146.0 651.6,143.5 652.0,139.5 652.4,134.5 652.9,128.7 653.3,122.7 653.7,116.9 654.1,111.8 654.5,107.9 655.0,105.4 655.4,104.5 655.8,105.5 656.2,108.3 656.7,112.7 657.1,118.3 657.5,124.5 657.9,130.6 658.3,136.2 658.8,140.6 659.2,143.4 659.6,144.4 660.0,143.6 660.5,141.2 660.9,137.5 661.3,132.7 661.7,127.3 662.1,121.6 662.6,116.2 663.0,111.4 663.4,107.7 663.8,105.3 664.2,104.5 664.7,106.2 665.1,111.0 665.5,118.3 665.9,127.3 666.4,136.9 666.8,145.9 667.2,153.2 667.6,158.0 668.1,159.6 668.5,157.5 668.9,151.5 669.3,142.1 669.8,130.2 670.2,117.1 670.6,103.9 671.0,92.1 671.5,82.6 671.9,76.6 672.3,74.5 672.7,78.7 673.2,90.7 673.6,108.5 674.0,129.6 674.5,150.7 674.9,168.6 675.3,180.5 675.8,184.7 676.2,180.9 676.6,169.8 677.1,152.7 677.5,131.9 677.9,109.7 678.3,88.8 678.8,71.8 679.2,60.7 679.6,56.8 680.0,62.0 680.5,76.9 680.9,99.2 681.3,125.4 681.8,151.7 682.2,174.0 682.6,188.8 683.1,194.1 683.5,189.9 683.9,178.0 684.4,159.8 684.8,137.4 685.2,113.5 685.6,91.1 686.1,72.9 686.5,60.9 686.9,56.8 687.4,61.7 687.8,75.8 688.2,96.9 688.7,121.7 689.1,146.6 689.5,167.7 690.0,181.7 690.4,186.7 690.8,182.2 691.2,169.5 691.7,150.4 692.1,127.9 692.5,105.4 693.0,86.3 693.4,73.6 693.8,69.1 694.3,72.9 694.7,83.7 695.1,99.9 695.6,119.0 696.0,138.2 696.4,154.4 696.9,165.2 697.3,169.0 697.7,166.5 698.2,159.3 698.6,148.3 699.0,134.8 699.4,120.5 699.9,107.0 700.3,96.0 700.7,88.8 701.2,86.3 701.6,89.0 702.0,96.5 702.5,107.7 702.9,121.0 703.3,134.3 703.8,145.5 704.2,153.1 704.6,155.7 705.0,153.5 705.5,147.2 705.9,137.8 706.3,126.7 706.8,115.6 707.2,106.1 707.6,99.8 708.1,97.6 708.5,99.7 708.9,105.6 709.4,114.3 709.8,124.7 710.2,135.1 710.7,143.8 711.1,149.7 711.5,151.8 712.0,149.5 712.4,143.2 712.8,133.7 713.3,122.5 713.7,111.3 714.1,101.8 714.6,95.4 715.0,93.2 715.4,95.9 715.9,103.5 716.3,114.9 716.7,128.4 717.2,141.9 717.6,153.3 718.0,160.9 718.5,163.6 718.9,160.0 719.4,150.2 719.8,136.8" stroke="#2a3c9e" stroke-width="1.4"/>
</g>
<rect x="450.3" y="28.3" width="98.2" height="30.4" fill="#fff" stroke="#444" stroke-width="0.9"/>
<path d="M454,36.5h14.5" stroke="#ee3e2c" stroke-width="1.4" stroke-dasharray="3.6,2"/>
<path d="M454,50h14.5" stroke="#2a3c9e" stroke-width="1.4"/>
<text x="473.3" y="39.8" style="font-size:10.1px">Damage Signal</text>
<text x="473.3" y="53.6" style="font-size:10.1px">Pristine Signal</text>
<text x="583" y="11" text-anchor="middle" style="font-weight:bold">Actuator 1 Sensor 3</text>
<text x="581.2" y="265.6" text-anchor="middle" style="font-size:11.2px">Time [s]</text>
<text x="699.2" y="260">x 10<tspan dy="-4.2" font-size="7.5">-4</tspan></text>
<text transform="translate(407.6,120.4) rotate(-90)" text-anchor="middle" style="font-size:11.3px">Sensor Signal [millivolts]</text>
<text class="cap" x="572.5" y="283.8" text-anchor="middle">(b)</text>
</svg></body></html>
